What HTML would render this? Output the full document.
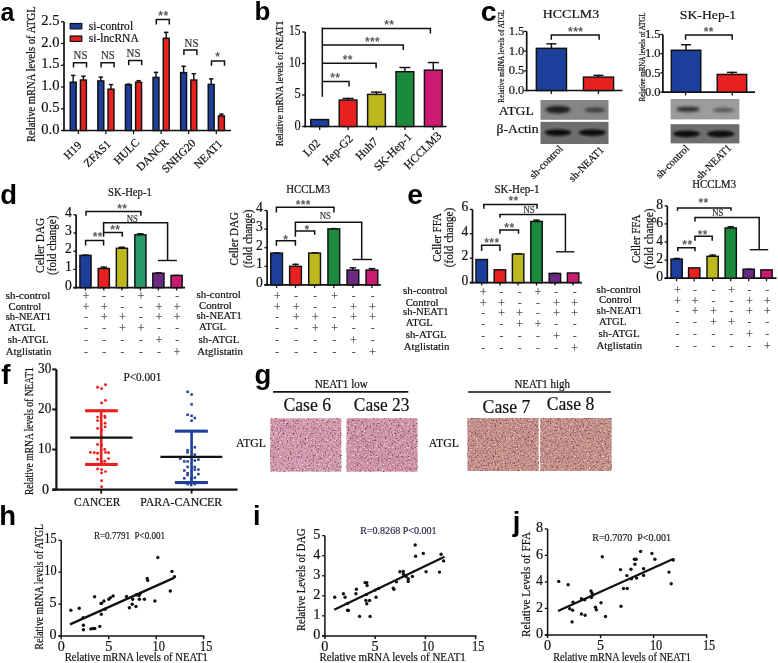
<!DOCTYPE html><html><head><meta charset="utf-8"><title>Figure</title><style>html,body{margin:0;padding:0;background:#fff;overflow:hidden}svg{display:block}</style></head><body>
<svg width="778" height="663" viewBox="0 0 778 663" font-family="'Liberation Serif', 'Times New Roman', serif">
<rect width="778" height="663" fill="#fff"/>
<text x="0.5" y="21" font-size="25" fill="#000" font-family="'Liberation Sans', Arial, sans-serif" font-weight="bold">a</text>
<text x="254.5" y="19.5" font-size="26" fill="#000" font-family="'Liberation Sans', Arial, sans-serif" font-weight="bold">b</text>
<text x="480.8" y="20.75" font-size="28.5" fill="#000" font-family="'Liberation Sans', Arial, sans-serif" font-weight="bold">c</text>
<text x="0.3" y="204.1" font-size="27.5" fill="#000" font-family="'Liberation Sans', Arial, sans-serif" font-weight="bold">d</text>
<text x="407.3" y="204.1" font-size="28.2" fill="#000" font-family="'Liberation Sans', Arial, sans-serif" font-weight="bold">e</text>
<text x="1.3" y="384.2" font-size="27.8" fill="#000" font-family="'Liberation Sans', Arial, sans-serif" font-weight="bold">f</text>
<text x="254.4" y="383.8" font-size="27.5" fill="#000" font-family="'Liberation Sans', Arial, sans-serif" font-weight="bold">g</text>
<text x="-0.8" y="525.3" font-size="27.5" fill="#000" font-family="'Liberation Sans', Arial, sans-serif" font-weight="bold">h</text>
<text x="253.1" y="525.1" font-size="27" fill="#000" font-family="'Liberation Sans', Arial, sans-serif" font-weight="bold">i</text>
<text x="512.7" y="530.7" font-size="27.3" fill="#000" font-family="'Liberation Sans', Arial, sans-serif" font-weight="bold">j</text>
<line x1="64" y1="21.75" x2="64" y2="131.35" stroke="#111" stroke-width="1.7" />
<line x1="63.15" y1="130.5" x2="231" y2="130.5" stroke="#111" stroke-width="1.7" />
<line x1="61" y1="130.5" x2="64" y2="130.5" stroke="#111" stroke-width="1.3" />
<text x="59.5" y="133.7" font-size="15.5" fill="#111" stroke="#111" stroke-width="0.2" text-anchor="end" textLength="18.2" lengthAdjust="spacingAndGlyphs">0.0</text>
<line x1="61" y1="108.75" x2="64" y2="108.75" stroke="#111" stroke-width="1.3" />
<text x="59.5" y="111.95" font-size="15.5" fill="#111" stroke="#111" stroke-width="0.2" text-anchor="end" textLength="18.2" lengthAdjust="spacingAndGlyphs">0.5</text>
<line x1="61" y1="87" x2="64" y2="87" stroke="#111" stroke-width="1.3" />
<text x="59.5" y="90.2" font-size="15.5" fill="#111" stroke="#111" stroke-width="0.2" text-anchor="end" textLength="18.2" lengthAdjust="spacingAndGlyphs">1.0</text>
<line x1="61" y1="65.25" x2="64" y2="65.25" stroke="#111" stroke-width="1.3" />
<text x="59.5" y="68.45" font-size="15.5" fill="#111" stroke="#111" stroke-width="0.2" text-anchor="end" textLength="18.2" lengthAdjust="spacingAndGlyphs">1.5</text>
<line x1="61" y1="43.5" x2="64" y2="43.5" stroke="#111" stroke-width="1.3" />
<text x="59.5" y="46.7" font-size="15.5" fill="#111" stroke="#111" stroke-width="0.2" text-anchor="end" textLength="18.2" lengthAdjust="spacingAndGlyphs">2.0</text>
<line x1="61" y1="21.75" x2="64" y2="21.75" stroke="#111" stroke-width="1.3" />
<text x="59.5" y="24.95" font-size="15.5" fill="#111" stroke="#111" stroke-width="0.2" text-anchor="end" textLength="18.2" lengthAdjust="spacingAndGlyphs">2.5</text>
<text transform="translate(35.1 74.2) rotate(-90)" font-size="12.2" fill="#111" stroke="#111" stroke-width="0.2" text-anchor="middle" textLength="135.7" lengthAdjust="spacingAndGlyphs">Relative mRNA levels of ATGL</text>
<rect x="70.2" y="23.5" width="11.6" height="5.4" fill="#1d3f9b" stroke="#111" stroke-width="1.2" />
<rect x="70.2" y="36" width="11.6" height="5.4" fill="#e8201f" stroke="#111" stroke-width="1.2" />
<text x="88.8" y="29.5" font-size="11.6" fill="#111" stroke="#111" stroke-width="0.2" textLength="44.3" lengthAdjust="spacingAndGlyphs">si-control</text>
<text x="88.8" y="41.7" font-size="11.6" fill="#111" stroke="#111" stroke-width="0.2" textLength="50" lengthAdjust="spacingAndGlyphs">si-lncRNA</text>
<line x1="73.2" y1="82.22" x2="73.2" y2="74.82" stroke="#111" stroke-width="1.45" />
<line x1="71" y1="75.44" x2="75.4" y2="75.44" stroke="#111" stroke-width="1.45" />
<rect x="70.22" y="82.22" width="5.95" height="48.28" fill="#1d3f9b" stroke="#111" stroke-width="1.45" />
<line x1="83.4" y1="80.04" x2="83.4" y2="75.69" stroke="#111" stroke-width="1.45" />
<line x1="81.2" y1="76.31" x2="85.6" y2="76.31" stroke="#111" stroke-width="1.45" />
<rect x="80.42" y="80.04" width="5.95" height="50.46" fill="#e8201f" stroke="#111" stroke-width="1.45" />
<line x1="78.3" y1="130.5" x2="78.3" y2="134.1" stroke="#111" stroke-width="1.3" />
<polyline points="73.5,67.5 73.5,62.7 86.5,62.7 86.5,67.5" fill="none" stroke="#111" stroke-width="1.5" stroke-linejoin="miter"/>
<text x="80.5" y="59.4" font-size="11.6" fill="#333" stroke="#333" stroke-width="0.2" text-anchor="middle" textLength="13.8" lengthAdjust="spacingAndGlyphs">NS</text>
<text transform="translate(75.3 153) rotate(-45)" font-size="11.4" fill="#111" stroke="#111" stroke-width="0.2" text-anchor="middle">H19</text>
<line x1="100.8" y1="80.91" x2="100.8" y2="76.56" stroke="#111" stroke-width="1.45" />
<line x1="98.6" y1="77.19" x2="103" y2="77.19" stroke="#111" stroke-width="1.45" />
<rect x="97.83" y="80.91" width="5.95" height="49.59" fill="#1d3f9b" stroke="#111" stroke-width="1.45" />
<line x1="111" y1="89.18" x2="111" y2="83.95" stroke="#111" stroke-width="1.45" />
<line x1="108.8" y1="84.58" x2="113.2" y2="84.58" stroke="#111" stroke-width="1.45" />
<rect x="108.02" y="89.18" width="5.95" height="41.32" fill="#e8201f" stroke="#111" stroke-width="1.45" />
<line x1="105.9" y1="130.5" x2="105.9" y2="134.1" stroke="#111" stroke-width="1.3" />
<polyline points="101.1,67.5 101.1,62.7 114.1,62.7 114.1,67.5" fill="none" stroke="#111" stroke-width="1.5" stroke-linejoin="miter"/>
<text x="107.8" y="59.4" font-size="11.6" fill="#333" stroke="#333" stroke-width="0.2" text-anchor="middle" textLength="13.8" lengthAdjust="spacingAndGlyphs">NS</text>
<text transform="translate(99.9 156.2) rotate(-45)" font-size="11.4" fill="#111" stroke="#111" stroke-width="0.2" text-anchor="middle">ZFAS1</text>
<line x1="128.4" y1="84.82" x2="128.4" y2="83.52" stroke="#111" stroke-width="1.45" />
<line x1="126.2" y1="84.14" x2="130.6" y2="84.14" stroke="#111" stroke-width="1.45" />
<rect x="125.42" y="84.82" width="5.95" height="45.67" fill="#1d3f9b" stroke="#111" stroke-width="1.45" />
<line x1="138.6" y1="82.22" x2="138.6" y2="80.04" stroke="#111" stroke-width="1.45" />
<line x1="136.4" y1="80.67" x2="140.8" y2="80.67" stroke="#111" stroke-width="1.45" />
<rect x="135.62" y="82.22" width="5.95" height="48.28" fill="#e8201f" stroke="#111" stroke-width="1.45" />
<line x1="133.5" y1="130.5" x2="133.5" y2="134.1" stroke="#111" stroke-width="1.3" />
<polyline points="128.7,65.2 128.7,60.4 141.7,60.4 141.7,65.2" fill="none" stroke="#111" stroke-width="1.5" stroke-linejoin="miter"/>
<text x="133.5" y="57.1" font-size="11.6" fill="#333" stroke="#333" stroke-width="0.2" text-anchor="middle" textLength="13.8" lengthAdjust="spacingAndGlyphs">NS</text>
<text transform="translate(129.1 154.1) rotate(-45)" font-size="11.4" fill="#111" stroke="#111" stroke-width="0.2" text-anchor="middle">HULC</text>
<line x1="156" y1="77.43" x2="156" y2="71.78" stroke="#111" stroke-width="1.45" />
<line x1="153.8" y1="72.4" x2="158.2" y2="72.4" stroke="#111" stroke-width="1.45" />
<rect x="153.03" y="77.43" width="5.95" height="53.07" fill="#1d3f9b" stroke="#111" stroke-width="1.45" />
<line x1="166.2" y1="38.28" x2="166.2" y2="31.75" stroke="#111" stroke-width="1.45" />
<line x1="164" y1="32.38" x2="168.4" y2="32.38" stroke="#111" stroke-width="1.45" />
<rect x="163.23" y="38.28" width="5.95" height="92.22" fill="#e8201f" stroke="#111" stroke-width="1.45" />
<line x1="161.1" y1="130.5" x2="161.1" y2="134.1" stroke="#111" stroke-width="1.3" />
<polyline points="156.3,24.4 156.3,19.6 169.3,19.6 169.3,24.4" fill="none" stroke="#111" stroke-width="1.5" stroke-linejoin="miter"/>
<text x="163.4" y="19.93" font-size="12" fill="#5a5a5a" font-family="'Liberation Sans', Arial, sans-serif" font-weight="bold" text-anchor="middle" letter-spacing="0.4">**</text>
<text transform="translate(155.1 157.5) rotate(-45)" font-size="11.4" fill="#111" stroke="#111" stroke-width="0.2" text-anchor="middle">DANCR</text>
<line x1="183.6" y1="72.64" x2="183.6" y2="65.69" stroke="#111" stroke-width="1.45" />
<line x1="181.4" y1="66.31" x2="185.8" y2="66.31" stroke="#111" stroke-width="1.45" />
<rect x="180.62" y="72.64" width="5.95" height="57.85" fill="#1d3f9b" stroke="#111" stroke-width="1.45" />
<line x1="193.8" y1="80.04" x2="193.8" y2="73.08" stroke="#111" stroke-width="1.45" />
<line x1="191.6" y1="73.7" x2="196" y2="73.7" stroke="#111" stroke-width="1.45" />
<rect x="190.82" y="80.04" width="5.95" height="50.46" fill="#e8201f" stroke="#111" stroke-width="1.45" />
<line x1="188.7" y1="130.5" x2="188.7" y2="134.1" stroke="#111" stroke-width="1.3" />
<polyline points="183.9,54.9 183.9,50.1 196.9,50.1 196.9,54.9" fill="none" stroke="#111" stroke-width="1.5" stroke-linejoin="miter"/>
<text x="191.5" y="46.8" font-size="11.6" fill="#333" stroke="#333" stroke-width="0.2" text-anchor="middle" textLength="13.8" lengthAdjust="spacingAndGlyphs">NS</text>
<text transform="translate(181.3 158.6) rotate(-45)" font-size="11.4" fill="#111" stroke="#111" stroke-width="0.2" text-anchor="middle">SNHG20</text>
<line x1="211.2" y1="84.39" x2="211.2" y2="78.3" stroke="#111" stroke-width="1.45" />
<line x1="209" y1="78.93" x2="213.4" y2="78.93" stroke="#111" stroke-width="1.45" />
<rect x="208.23" y="84.39" width="5.95" height="46.11" fill="#1d3f9b" stroke="#111" stroke-width="1.45" />
<line x1="221.4" y1="115.93" x2="221.4" y2="113.53" stroke="#111" stroke-width="1.45" />
<line x1="219.2" y1="114.16" x2="223.6" y2="114.16" stroke="#111" stroke-width="1.45" />
<rect x="218.43" y="115.93" width="5.95" height="14.57" fill="#e8201f" stroke="#111" stroke-width="1.45" />
<line x1="216.3" y1="130.5" x2="216.3" y2="134.1" stroke="#111" stroke-width="1.3" />
<polyline points="211.5,65.7 211.5,60.9 224.5,60.9 224.5,65.7" fill="none" stroke="#111" stroke-width="1.5" stroke-linejoin="miter"/>
<text x="217.8" y="61.23" font-size="12" fill="#5a5a5a" font-family="'Liberation Sans', Arial, sans-serif" font-weight="bold" text-anchor="middle" letter-spacing="0.4">*</text>
<text transform="translate(210.8 156.7) rotate(-45)" font-size="11.4" fill="#111" stroke="#111" stroke-width="0.2" text-anchor="middle">NEAT1</text>
<line x1="305.2" y1="32" x2="305.2" y2="127.35" stroke="#111" stroke-width="1.7" />
<line x1="304.35" y1="126.5" x2="446.5" y2="126.5" stroke="#111" stroke-width="1.7" />
<line x1="302" y1="126.5" x2="305.2" y2="126.5" stroke="#111" stroke-width="1.3" />
<text x="300.6" y="129.7" font-size="15.5" fill="#111" stroke="#111" stroke-width="0.2" text-anchor="end" textLength="6.2" lengthAdjust="spacingAndGlyphs">0</text>
<line x1="302" y1="95" x2="305.2" y2="95" stroke="#111" stroke-width="1.3" />
<text x="300.6" y="98.2" font-size="15.5" fill="#111" stroke="#111" stroke-width="0.2" text-anchor="end" textLength="6.2" lengthAdjust="spacingAndGlyphs">5</text>
<line x1="302" y1="63.5" x2="305.2" y2="63.5" stroke="#111" stroke-width="1.3" />
<text x="300.6" y="66.7" font-size="15.5" fill="#111" stroke="#111" stroke-width="0.2" text-anchor="end" textLength="11.6" lengthAdjust="spacingAndGlyphs">10</text>
<line x1="302" y1="32" x2="305.2" y2="32" stroke="#111" stroke-width="1.3" />
<text x="300.6" y="35.2" font-size="15.5" fill="#111" stroke="#111" stroke-width="0.2" text-anchor="end" textLength="11.6" lengthAdjust="spacingAndGlyphs">15</text>
<text transform="translate(283.4 83.6) rotate(-90)" font-size="10.6" fill="#111" stroke="#111" stroke-width="0.2" text-anchor="middle" textLength="125.5" lengthAdjust="spacingAndGlyphs">Relative mRNA levels of NEAT1</text>
<rect x="310.82" y="119.57" width="17.75" height="6.93" fill="#1d3f9b" stroke="#111" stroke-width="1.45" />
<line x1="319.7" y1="126.5" x2="319.7" y2="130.1" stroke="#111" stroke-width="1.3" />
<text transform="translate(314.3 150.5) rotate(-45)" font-size="11.7" fill="#111" stroke="#111" stroke-width="0.2" text-anchor="middle">L02</text>
<line x1="348.1" y1="100.04" x2="348.1" y2="97.84" stroke="#111" stroke-width="1.45" />
<line x1="342.6" y1="98.46" x2="353.6" y2="98.46" stroke="#111" stroke-width="1.45" />
<rect x="339.22" y="100.04" width="17.75" height="26.46" fill="#e8201f" stroke="#111" stroke-width="1.45" />
<line x1="348.1" y1="126.5" x2="348.1" y2="130.1" stroke="#111" stroke-width="1.3" />
<text transform="translate(340.2 152.8) rotate(-45)" font-size="11.7" fill="#111" stroke="#111" stroke-width="0.2" text-anchor="middle">Hep-G2</text>
<line x1="376.5" y1="94.37" x2="376.5" y2="91.53" stroke="#111" stroke-width="1.45" />
<line x1="371" y1="92.16" x2="382" y2="92.16" stroke="#111" stroke-width="1.45" />
<rect x="367.62" y="94.37" width="17.75" height="32.13" fill="#bcb81e" stroke="#111" stroke-width="1.45" />
<line x1="376.5" y1="126.5" x2="376.5" y2="130.1" stroke="#111" stroke-width="1.3" />
<text transform="translate(369.4 151.5) rotate(-45)" font-size="11.7" fill="#111" stroke="#111" stroke-width="0.2" text-anchor="middle">Huh7</text>
<line x1="404.9" y1="71.69" x2="404.9" y2="66.9" stroke="#111" stroke-width="1.45" />
<line x1="399.4" y1="67.53" x2="410.4" y2="67.53" stroke="#111" stroke-width="1.45" />
<rect x="396.02" y="71.69" width="17.75" height="54.81" fill="#1c8a3c" stroke="#111" stroke-width="1.45" />
<line x1="404.9" y1="126.5" x2="404.9" y2="130.1" stroke="#111" stroke-width="1.3" />
<text transform="translate(395.4 154.5) rotate(-45)" font-size="11.7" fill="#111" stroke="#111" stroke-width="0.2" text-anchor="middle">SK-Hep-1</text>
<line x1="433.3" y1="70.12" x2="433.3" y2="61.92" stroke="#111" stroke-width="1.45" />
<line x1="427.8" y1="62.55" x2="438.8" y2="62.55" stroke="#111" stroke-width="1.45" />
<rect x="424.42" y="70.12" width="17.75" height="56.38" fill="#cc1a72" stroke="#111" stroke-width="1.45" />
<line x1="433.3" y1="126.5" x2="433.3" y2="130.1" stroke="#111" stroke-width="1.3" />
<text transform="translate(425.3 153.2) rotate(-45)" font-size="11.7" fill="#111" stroke="#111" stroke-width="0.2" text-anchor="middle">HCCLM3</text>
<line x1="322.3" y1="96.8" x2="322.3" y2="27.65" stroke="#111" stroke-width="1.5" />
<polyline points="322.3,28.4 430.4,28.4 430.4,33.4" fill="none" stroke="#111" stroke-width="1.5" stroke-linejoin="miter"/>
<text x="389.2" y="29.23" font-size="12" fill="#5a5a5a" font-family="'Liberation Sans', Arial, sans-serif" font-weight="bold" text-anchor="middle" letter-spacing="0.4">**</text>
<polyline points="322.3,45.1 403.3,45.1 403.3,50.1" fill="none" stroke="#111" stroke-width="1.5" stroke-linejoin="miter"/>
<text x="372.5" y="46.03" font-size="12" fill="#5a5a5a" font-family="'Liberation Sans', Arial, sans-serif" font-weight="bold" text-anchor="middle" letter-spacing="0.4">***</text>
<polyline points="322.3,63.3 376.1,63.3 376.1,68.3" fill="none" stroke="#111" stroke-width="1.5" stroke-linejoin="miter"/>
<text x="347.7" y="63.63" font-size="12" fill="#5a5a5a" font-family="'Liberation Sans', Arial, sans-serif" font-weight="bold" text-anchor="middle" letter-spacing="0.4">**</text>
<polyline points="322.3,81.4 349,81.4 349,86.4" fill="none" stroke="#111" stroke-width="1.5" stroke-linejoin="miter"/>
<text x="335.2" y="81.63" font-size="12" fill="#5a5a5a" font-family="'Liberation Sans', Arial, sans-serif" font-weight="bold" text-anchor="middle" letter-spacing="0.4">**</text>
<text x="571" y="18.1" font-size="13.2" fill="#111" stroke="#111" stroke-width="0.2" text-anchor="middle" textLength="56.3" lengthAdjust="spacingAndGlyphs">HCCLM3</text>
<line x1="526.7" y1="31.4" x2="526.7" y2="91.35" stroke="#111" stroke-width="1.7" />
<line x1="525.85" y1="90.5" x2="622.5" y2="90.5" stroke="#111" stroke-width="1.7" />
<line x1="524.1" y1="90.5" x2="526.7" y2="90.5" stroke="#111" stroke-width="1.3" />
<text x="524.3" y="94.1" font-size="13" fill="#111" stroke="#111" stroke-width="0.2" text-anchor="end" textLength="15.6" lengthAdjust="spacingAndGlyphs">0.0</text>
<line x1="524.1" y1="70.8" x2="526.7" y2="70.8" stroke="#111" stroke-width="1.3" />
<text x="524.3" y="74.4" font-size="13" fill="#111" stroke="#111" stroke-width="0.2" text-anchor="end" textLength="15.6" lengthAdjust="spacingAndGlyphs">0.5</text>
<line x1="524.1" y1="51.1" x2="526.7" y2="51.1" stroke="#111" stroke-width="1.3" />
<text x="524.3" y="54.7" font-size="13" fill="#111" stroke="#111" stroke-width="0.2" text-anchor="end" textLength="15.6" lengthAdjust="spacingAndGlyphs">1.0</text>
<line x1="524.1" y1="31.4" x2="526.7" y2="31.4" stroke="#111" stroke-width="1.3" />
<text x="524.3" y="35" font-size="13" fill="#111" stroke="#111" stroke-width="0.2" text-anchor="end" textLength="15.6" lengthAdjust="spacingAndGlyphs">1.5</text>
<text transform="translate(504.3 56.2) rotate(-90)" font-size="8.8" fill="#111" stroke="#111" stroke-width="0.2" text-anchor="middle" textLength="93" lengthAdjust="spacingAndGlyphs">Relative mRNA levels of ATGL</text>
<line x1="551.4" y1="48.34" x2="551.4" y2="43.22" stroke="#111" stroke-width="1.45" />
<line x1="546.4" y1="43.85" x2="556.4" y2="43.85" stroke="#111" stroke-width="1.45" />
<rect x="536.33" y="48.34" width="30.15" height="42.16" fill="#1d3f9b" stroke="#111" stroke-width="1.45" />
<line x1="598.5" y1="77.1" x2="598.5" y2="74.74" stroke="#111" stroke-width="1.45" />
<line x1="593.5" y1="75.36" x2="603.5" y2="75.36" stroke="#111" stroke-width="1.45" />
<rect x="583.43" y="77.1" width="30.15" height="13.4" fill="#e8201f" stroke="#111" stroke-width="1.45" />
<line x1="551.3" y1="90.5" x2="551.3" y2="93.9" stroke="#111" stroke-width="1.3" />
<line x1="598.4" y1="90.5" x2="598.4" y2="93.9" stroke="#111" stroke-width="1.3" />
<polyline points="551.3,39.8 551.3,35 599.1,35 599.1,39.8" fill="none" stroke="#111" stroke-width="1.5" stroke-linejoin="miter"/>
<text x="575.7" y="36.13" font-size="12" fill="#5a5a5a" font-family="'Liberation Sans', Arial, sans-serif" font-weight="bold" text-anchor="middle" letter-spacing="0.4">***</text>
<text transform="translate(548.5 164.4) rotate(-45)" font-size="10.5" fill="#111" stroke="#111" stroke-width="0.2" text-anchor="middle">sh-control</text>
<text transform="translate(588.7 166.3) rotate(-45)" font-size="10.5" fill="#111" stroke="#111" stroke-width="0.2" text-anchor="middle">sh-NEAT1</text>
<text x="708" y="18.8" font-size="13.2" fill="#111" stroke="#111" stroke-width="0.2" text-anchor="middle" textLength="56.3" lengthAdjust="spacingAndGlyphs">SK-Hep-1</text>
<line x1="662.9" y1="34.5" x2="662.9" y2="92.95" stroke="#111" stroke-width="1.7" />
<line x1="662.05" y1="92.1" x2="755.1" y2="92.1" stroke="#111" stroke-width="1.7" />
<line x1="660.3" y1="92.1" x2="662.9" y2="92.1" stroke="#111" stroke-width="1.3" />
<text x="660.5" y="95.7" font-size="13" fill="#111" stroke="#111" stroke-width="0.2" text-anchor="end" textLength="15.6" lengthAdjust="spacingAndGlyphs">0.0</text>
<line x1="660.3" y1="72.9" x2="662.9" y2="72.9" stroke="#111" stroke-width="1.3" />
<text x="660.5" y="76.5" font-size="13" fill="#111" stroke="#111" stroke-width="0.2" text-anchor="end" textLength="15.6" lengthAdjust="spacingAndGlyphs">0.5</text>
<line x1="660.3" y1="53.7" x2="662.9" y2="53.7" stroke="#111" stroke-width="1.3" />
<text x="660.5" y="57.3" font-size="13" fill="#111" stroke="#111" stroke-width="0.2" text-anchor="end" textLength="15.6" lengthAdjust="spacingAndGlyphs">1.0</text>
<line x1="660.3" y1="34.5" x2="662.9" y2="34.5" stroke="#111" stroke-width="1.3" />
<text x="660.5" y="38.1" font-size="13" fill="#111" stroke="#111" stroke-width="0.2" text-anchor="end" textLength="15.6" lengthAdjust="spacingAndGlyphs">1.5</text>
<text transform="translate(644.6 57) rotate(-90)" font-size="8.8" fill="#111" stroke="#111" stroke-width="0.2" text-anchor="middle" textLength="89" lengthAdjust="spacingAndGlyphs">Relative mRNA levels of ATGL</text>
<line x1="686.05" y1="50.24" x2="686.05" y2="44.1" stroke="#111" stroke-width="1.45" />
<line x1="681.05" y1="44.72" x2="691.05" y2="44.72" stroke="#111" stroke-width="1.45" />
<rect x="671.32" y="50.24" width="29.45" height="41.86" fill="#1d3f9b" stroke="#111" stroke-width="1.45" />
<line x1="731.95" y1="74.44" x2="731.95" y2="71.75" stroke="#111" stroke-width="1.45" />
<line x1="726.95" y1="72.37" x2="736.95" y2="72.37" stroke="#111" stroke-width="1.45" />
<rect x="717.23" y="74.44" width="29.45" height="17.66" fill="#e8201f" stroke="#111" stroke-width="1.45" />
<line x1="685.6" y1="92.1" x2="685.6" y2="95.5" stroke="#111" stroke-width="1.3" />
<line x1="732.2" y1="92.1" x2="732.2" y2="95.5" stroke="#111" stroke-width="1.3" />
<polyline points="685.6,39.8 685.6,35 732.2,35 732.2,39.8" fill="none" stroke="#111" stroke-width="1.5" stroke-linejoin="miter"/>
<text x="708.8" y="36.13" font-size="12" fill="#5a5a5a" font-family="'Liberation Sans', Arial, sans-serif" font-weight="bold" text-anchor="middle" letter-spacing="0.4">**</text>
<text transform="translate(674.7 164) rotate(-45)" font-size="10.5" fill="#111" stroke="#111" stroke-width="0.2" text-anchor="middle">sh-control</text>
<text transform="translate(716.1 164.4) rotate(-45)" font-size="10.5" fill="#111" stroke="#111" stroke-width="0.2" text-anchor="middle">sh-NEAT1</text>
<defs><filter id="bl1" x="-30%" y="-80%" width="160%" height="260%"><feGaussianBlur stdDeviation="1.6"/></filter><filter id="bl2" x="-30%" y="-80%" width="160%" height="260%"><feGaussianBlur stdDeviation="1.1"/></filter><linearGradient id="gA" x1="0" y1="0" x2="0" y2="1"><stop offset="0" stop-color="#8a8a8a"/><stop offset="1" stop-color="#7c7c7c"/></linearGradient></defs>
<rect x="540.5" y="100" width="68" height="19.8" fill="#868686"/>
<rect x="540.5" y="121.8" width="68" height="22.2" fill="#6e6e6e"/>
<ellipse cx="558" cy="109.6" rx="12.5" ry="3.6" fill="#1a1a1a" filter="url(#bl1)"/>
<ellipse cx="595" cy="110" rx="10.5" ry="2.4" fill="#3a3a3a" filter="url(#bl1)"/>
<ellipse cx="558" cy="132.6" rx="13.2" ry="3.4" fill="#111" filter="url(#bl2)"/>
<ellipse cx="592.3" cy="132.6" rx="13.6" ry="3.4" fill="#111" filter="url(#bl2)"/>
<text x="498.8" y="115.4" font-size="11.6" fill="#111" stroke="#111" stroke-width="0.2" textLength="35" lengthAdjust="spacingAndGlyphs">ATGL</text>
<text x="496.5" y="133.1" font-size="11.6" fill="#111" stroke="#111" stroke-width="0.2" textLength="42" lengthAdjust="spacingAndGlyphs">β-Actin</text>
<rect x="670.6" y="99" width="68.8" height="20.4" fill="#9c9c9c"/>
<rect x="670.6" y="124.2" width="68.8" height="19.2" fill="#6e6e6e"/>
<ellipse cx="688" cy="109.2" rx="12" ry="2.8" fill="#333" filter="url(#bl1)"/>
<ellipse cx="723.5" cy="110" rx="11" ry="2.2" fill="#555" filter="url(#bl1)"/>
<ellipse cx="686.5" cy="133.8" rx="13.4" ry="3.4" fill="#111" filter="url(#bl2)"/>
<ellipse cx="720.7" cy="133.8" rx="13.8" ry="3.4" fill="#111" filter="url(#bl2)"/>
<text x="129.9" y="195.8" font-size="11.6" fill="#111" stroke="#111" stroke-width="0.2" text-anchor="middle" textLength="43.7" lengthAdjust="spacingAndGlyphs">SK-Hep-1</text>
<line x1="76.1" y1="214.8" x2="76.1" y2="288.45" stroke="#111" stroke-width="1.7" />
<line x1="73.4" y1="287.6" x2="185" y2="287.6" stroke="#111" stroke-width="1.7" />
<line x1="73.4" y1="287.6" x2="76.1" y2="287.6" stroke="#111" stroke-width="1.3" />
<text x="71.9" y="289.6" font-size="13.6" fill="#111" stroke="#111" stroke-width="0.2" text-anchor="end">0</text>
<line x1="73.4" y1="269.4" x2="76.1" y2="269.4" stroke="#111" stroke-width="1.3" />
<text x="71.9" y="271.4" font-size="13.6" fill="#111" stroke="#111" stroke-width="0.2" text-anchor="end">1</text>
<line x1="73.4" y1="251.2" x2="76.1" y2="251.2" stroke="#111" stroke-width="1.3" />
<text x="71.9" y="253.2" font-size="13.6" fill="#111" stroke="#111" stroke-width="0.2" text-anchor="end">2</text>
<line x1="73.4" y1="233" x2="76.1" y2="233" stroke="#111" stroke-width="1.3" />
<text x="71.9" y="235" font-size="13.6" fill="#111" stroke="#111" stroke-width="0.2" text-anchor="end">3</text>
<line x1="73.4" y1="214.8" x2="76.1" y2="214.8" stroke="#111" stroke-width="1.3" />
<text x="71.9" y="216.8" font-size="13.6" fill="#111" stroke="#111" stroke-width="0.2" text-anchor="end">4</text>
<text transform="translate(43.9 245.3) rotate(-90)" font-size="11.8" fill="#111" stroke="#111" stroke-width="0.2" text-anchor="middle" textLength="55.2" lengthAdjust="spacingAndGlyphs">Celler DAG</text>
<text transform="translate(56.4 245.3) rotate(-90)" font-size="11.8" fill="#111" stroke="#111" stroke-width="0.2" text-anchor="middle" textLength="59.4" lengthAdjust="spacingAndGlyphs">(fold change)</text>
<line x1="85.5" y1="255.39" x2="85.5" y2="254.48" stroke="#111" stroke-width="1.45" />
<line x1="82.25" y1="255.1" x2="88.75" y2="255.1" stroke="#111" stroke-width="1.45" />
<rect x="79.92" y="255.39" width="11.15" height="32.21" fill="#1d3f9b" stroke="#111" stroke-width="1.45" />
<line x1="85.5" y1="287.6" x2="85.5" y2="290.6" stroke="#111" stroke-width="1.3" />
<line x1="103.8" y1="268.49" x2="103.8" y2="266.49" stroke="#111" stroke-width="1.45" />
<line x1="100.55" y1="267.11" x2="107.05" y2="267.11" stroke="#111" stroke-width="1.45" />
<rect x="98.22" y="268.49" width="11.15" height="19.11" fill="#e8201f" stroke="#111" stroke-width="1.45" />
<line x1="103.8" y1="287.6" x2="103.8" y2="290.6" stroke="#111" stroke-width="1.3" />
<line x1="121.9" y1="248.29" x2="121.9" y2="246.65" stroke="#111" stroke-width="1.45" />
<line x1="118.65" y1="247.28" x2="125.15" y2="247.28" stroke="#111" stroke-width="1.45" />
<rect x="116.33" y="248.29" width="11.15" height="39.31" fill="#bcb81e" stroke="#111" stroke-width="1.45" />
<line x1="121.9" y1="287.6" x2="121.9" y2="290.6" stroke="#111" stroke-width="1.3" />
<line x1="140.4" y1="234.82" x2="140.4" y2="233.18" stroke="#111" stroke-width="1.45" />
<line x1="137.15" y1="233.81" x2="143.65" y2="233.81" stroke="#111" stroke-width="1.45" />
<rect x="134.82" y="234.82" width="11.15" height="52.78" fill="#27996a" stroke="#111" stroke-width="1.45" />
<line x1="140.4" y1="287.6" x2="140.4" y2="290.6" stroke="#111" stroke-width="1.3" />
<line x1="158.4" y1="273.22" x2="158.4" y2="272.31" stroke="#111" stroke-width="1.45" />
<line x1="155.15" y1="272.94" x2="161.65" y2="272.94" stroke="#111" stroke-width="1.45" />
<rect x="152.82" y="273.22" width="11.15" height="14.38" fill="#6b2a82" stroke="#111" stroke-width="1.45" />
<line x1="158.4" y1="287.6" x2="158.4" y2="290.6" stroke="#111" stroke-width="1.3" />
<line x1="176.6" y1="275.41" x2="176.6" y2="274.86" stroke="#111" stroke-width="1.45" />
<line x1="173.35" y1="275.49" x2="179.85" y2="275.49" stroke="#111" stroke-width="1.45" />
<rect x="171.02" y="275.41" width="11.15" height="12.19" fill="#cc1a72" stroke="#111" stroke-width="1.45" />
<line x1="176.6" y1="287.6" x2="176.6" y2="290.6" stroke="#111" stroke-width="1.3" />
<polyline points="86,215.8 86,211.4 140.9,211.4 140.9,215.8" fill="none" stroke="#111" stroke-width="1.5" stroke-linejoin="miter"/>
<text x="122.3" y="212.83" font-size="12" fill="#5a5a5a" font-family="'Liberation Sans', Arial, sans-serif" font-weight="bold" text-anchor="middle" letter-spacing="0.4">**</text>
<polyline points="103.6,236.8 103.6,222.7 167.6,222.7 167.6,260.5" fill="none" stroke="#111" stroke-width="1.5" stroke-linejoin="miter"/>
<text x="132.4" y="222" font-size="10" fill="#333" stroke="#333" stroke-width="0.2" text-anchor="middle" textLength="11.2" lengthAdjust="spacingAndGlyphs">NS</text>
<polyline points="85.6,245.5 85.6,240.6 103.6,240.6 103.6,245.5" fill="none" stroke="#111" stroke-width="1.5" stroke-linejoin="miter"/>
<text x="97.8" y="241.23" font-size="12" fill="#5a5a5a" font-family="'Liberation Sans', Arial, sans-serif" font-weight="bold" text-anchor="middle" letter-spacing="0.4">**</text>
<polyline points="103.6,232.4 122.3,232.4 122.3,236.7" fill="none" stroke="#111" stroke-width="1.5" stroke-linejoin="miter"/>
<text x="115.3" y="234.23" font-size="12" fill="#5a5a5a" font-family="'Liberation Sans', Arial, sans-serif" font-weight="bold" text-anchor="middle" letter-spacing="0.4">**</text>
<line x1="158" y1="260.5" x2="176.9" y2="260.5" stroke="#111" stroke-width="1.4" />
<text x="5.7" y="298.7" font-size="11.2" fill="#111" stroke="#111" stroke-width="0.2" textLength="44.5" lengthAdjust="spacingAndGlyphs">sh-control</text>
<text x="86" y="300.1" font-size="11.6" fill="#505050" stroke="#505050" stroke-width="0.2" text-anchor="middle">+</text>
<text x="104.3" y="299.1" font-size="11.6" fill="#505050" stroke="#505050" stroke-width="0.2" text-anchor="middle">-</text>
<text x="122.4" y="299.1" font-size="11.6" fill="#505050" stroke="#505050" stroke-width="0.2" text-anchor="middle">-</text>
<text x="140.9" y="300.1" font-size="11.6" fill="#505050" stroke="#505050" stroke-width="0.2" text-anchor="middle">+</text>
<text x="158.9" y="299.1" font-size="11.6" fill="#505050" stroke="#505050" stroke-width="0.2" text-anchor="middle">-</text>
<text x="177.1" y="299.1" font-size="11.6" fill="#505050" stroke="#505050" stroke-width="0.2" text-anchor="middle">-</text>
<text x="8.5" y="310" font-size="11.2" fill="#111" stroke="#111" stroke-width="0.2" textLength="32.8" lengthAdjust="spacingAndGlyphs">Control</text>
<text x="86" y="311.4" font-size="11.6" fill="#505050" stroke="#505050" stroke-width="0.2" text-anchor="middle">+</text>
<text x="104.3" y="311.4" font-size="11.6" fill="#505050" stroke="#505050" stroke-width="0.2" text-anchor="middle">+</text>
<text x="122.4" y="310.4" font-size="11.6" fill="#505050" stroke="#505050" stroke-width="0.2" text-anchor="middle">-</text>
<text x="140.9" y="310.4" font-size="11.6" fill="#505050" stroke="#505050" stroke-width="0.2" text-anchor="middle">-</text>
<text x="158.9" y="311.4" font-size="11.6" fill="#505050" stroke="#505050" stroke-width="0.2" text-anchor="middle">+</text>
<text x="177.1" y="311.4" font-size="11.6" fill="#505050" stroke="#505050" stroke-width="0.2" text-anchor="middle">+</text>
<text x="5.7" y="319.7" font-size="11.2" fill="#111" stroke="#111" stroke-width="0.2" textLength="45.5" lengthAdjust="spacingAndGlyphs">sh-NEAT1</text>
<text x="86" y="320.1" font-size="11.6" fill="#505050" stroke="#505050" stroke-width="0.2" text-anchor="middle">-</text>
<text x="104.3" y="321.1" font-size="11.6" fill="#505050" stroke="#505050" stroke-width="0.2" text-anchor="middle">+</text>
<text x="122.4" y="321.1" font-size="11.6" fill="#505050" stroke="#505050" stroke-width="0.2" text-anchor="middle">+</text>
<text x="140.9" y="320.1" font-size="11.6" fill="#505050" stroke="#505050" stroke-width="0.2" text-anchor="middle">-</text>
<text x="158.9" y="321.1" font-size="11.6" fill="#505050" stroke="#505050" stroke-width="0.2" text-anchor="middle">+</text>
<text x="177.1" y="321.1" font-size="11.6" fill="#505050" stroke="#505050" stroke-width="0.2" text-anchor="middle">+</text>
<text x="8.5" y="330.5" font-size="11.2" fill="#111" stroke="#111" stroke-width="0.2" textLength="27.1" lengthAdjust="spacingAndGlyphs">ATGL</text>
<text x="86" y="330.9" font-size="11.6" fill="#505050" stroke="#505050" stroke-width="0.2" text-anchor="middle">-</text>
<text x="104.3" y="330.9" font-size="11.6" fill="#505050" stroke="#505050" stroke-width="0.2" text-anchor="middle">-</text>
<text x="122.4" y="331.9" font-size="11.6" fill="#505050" stroke="#505050" stroke-width="0.2" text-anchor="middle">+</text>
<text x="140.9" y="331.9" font-size="11.6" fill="#505050" stroke="#505050" stroke-width="0.2" text-anchor="middle">+</text>
<text x="158.9" y="330.9" font-size="11.6" fill="#505050" stroke="#505050" stroke-width="0.2" text-anchor="middle">-</text>
<text x="177.1" y="330.9" font-size="11.6" fill="#505050" stroke="#505050" stroke-width="0.2" text-anchor="middle">-</text>
<text x="7.7" y="343" font-size="11.2" fill="#111" stroke="#111" stroke-width="0.2" textLength="41" lengthAdjust="spacingAndGlyphs">sh-ATGL</text>
<text x="86" y="343.4" font-size="11.6" fill="#505050" stroke="#505050" stroke-width="0.2" text-anchor="middle">-</text>
<text x="104.3" y="343.4" font-size="11.6" fill="#505050" stroke="#505050" stroke-width="0.2" text-anchor="middle">-</text>
<text x="122.4" y="343.4" font-size="11.6" fill="#505050" stroke="#505050" stroke-width="0.2" text-anchor="middle">-</text>
<text x="140.9" y="343.4" font-size="11.6" fill="#505050" stroke="#505050" stroke-width="0.2" text-anchor="middle">-</text>
<text x="158.9" y="344.4" font-size="11.6" fill="#505050" stroke="#505050" stroke-width="0.2" text-anchor="middle">+</text>
<text x="177.1" y="343.4" font-size="11.6" fill="#505050" stroke="#505050" stroke-width="0.2" text-anchor="middle">-</text>
<text x="5.7" y="354.6" font-size="11.2" fill="#111" stroke="#111" stroke-width="0.2" textLength="45.7" lengthAdjust="spacingAndGlyphs">Atglistatin</text>
<text x="86" y="355" font-size="11.6" fill="#505050" stroke="#505050" stroke-width="0.2" text-anchor="middle">-</text>
<text x="104.3" y="355" font-size="11.6" fill="#505050" stroke="#505050" stroke-width="0.2" text-anchor="middle">-</text>
<text x="122.4" y="355" font-size="11.6" fill="#505050" stroke="#505050" stroke-width="0.2" text-anchor="middle">-</text>
<text x="140.9" y="355" font-size="11.6" fill="#505050" stroke="#505050" stroke-width="0.2" text-anchor="middle">-</text>
<text x="158.9" y="355" font-size="11.6" fill="#505050" stroke="#505050" stroke-width="0.2" text-anchor="middle">-</text>
<text x="177.1" y="356" font-size="11.6" fill="#505050" stroke="#505050" stroke-width="0.2" text-anchor="middle">+</text>
<text x="308.2" y="193.3" font-size="11.6" fill="#111" stroke="#111" stroke-width="0.2" text-anchor="middle" textLength="43.7" lengthAdjust="spacingAndGlyphs">HCCLM3</text>
<line x1="267.1" y1="210.5" x2="267.1" y2="285.75" stroke="#111" stroke-width="1.7" />
<line x1="264.4" y1="284.9" x2="380.9" y2="284.9" stroke="#111" stroke-width="1.7" />
<line x1="264.4" y1="284.9" x2="267.1" y2="284.9" stroke="#111" stroke-width="1.3" />
<text x="262.9" y="286.7" font-size="13.6" fill="#111" stroke="#111" stroke-width="0.2" text-anchor="end">0</text>
<line x1="264.4" y1="266.3" x2="267.1" y2="266.3" stroke="#111" stroke-width="1.3" />
<text x="262.9" y="268.1" font-size="13.6" fill="#111" stroke="#111" stroke-width="0.2" text-anchor="end">1</text>
<line x1="264.4" y1="247.7" x2="267.1" y2="247.7" stroke="#111" stroke-width="1.3" />
<text x="262.9" y="249.5" font-size="13.6" fill="#111" stroke="#111" stroke-width="0.2" text-anchor="end">2</text>
<line x1="264.4" y1="229.1" x2="267.1" y2="229.1" stroke="#111" stroke-width="1.3" />
<text x="262.9" y="230.9" font-size="13.6" fill="#111" stroke="#111" stroke-width="0.2" text-anchor="end">3</text>
<line x1="264.4" y1="210.5" x2="267.1" y2="210.5" stroke="#111" stroke-width="1.3" />
<text x="262.9" y="212.3" font-size="13.6" fill="#111" stroke="#111" stroke-width="0.2" text-anchor="end">4</text>
<text transform="translate(238.4 238.8) rotate(-90)" font-size="11.8" fill="#111" stroke="#111" stroke-width="0.2" text-anchor="middle" textLength="53.2" lengthAdjust="spacingAndGlyphs">Celler DAG</text>
<text transform="translate(252.1 238.8) rotate(-90)" font-size="11.8" fill="#111" stroke="#111" stroke-width="0.2" text-anchor="middle" textLength="58.6" lengthAdjust="spacingAndGlyphs">(fold change)</text>
<line x1="276.6" y1="253.09" x2="276.6" y2="252.35" stroke="#111" stroke-width="1.45" />
<line x1="273.35" y1="252.97" x2="279.85" y2="252.97" stroke="#111" stroke-width="1.45" />
<rect x="270.73" y="253.09" width="11.75" height="31.81" fill="#1d3f9b" stroke="#111" stroke-width="1.45" />
<line x1="276.6" y1="284.9" x2="276.6" y2="287.9" stroke="#111" stroke-width="1.3" />
<line x1="295.5" y1="266.3" x2="295.5" y2="263.7" stroke="#111" stroke-width="1.45" />
<line x1="292.25" y1="264.32" x2="298.75" y2="264.32" stroke="#111" stroke-width="1.45" />
<rect x="289.62" y="266.3" width="11.75" height="18.6" fill="#e8201f" stroke="#111" stroke-width="1.45" />
<line x1="295.5" y1="284.9" x2="295.5" y2="287.9" stroke="#111" stroke-width="1.3" />
<line x1="314.6" y1="253.09" x2="314.6" y2="252.16" stroke="#111" stroke-width="1.45" />
<line x1="311.35" y1="252.79" x2="317.85" y2="252.79" stroke="#111" stroke-width="1.45" />
<rect x="308.73" y="253.09" width="11.75" height="31.81" fill="#bcb81e" stroke="#111" stroke-width="1.45" />
<line x1="314.6" y1="284.9" x2="314.6" y2="287.9" stroke="#111" stroke-width="1.3" />
<line x1="333.8" y1="228.91" x2="333.8" y2="227.98" stroke="#111" stroke-width="1.45" />
<line x1="330.55" y1="228.61" x2="337.05" y2="228.61" stroke="#111" stroke-width="1.45" />
<rect x="327.93" y="228.91" width="11.75" height="55.99" fill="#1c8a3c" stroke="#111" stroke-width="1.45" />
<line x1="333.8" y1="284.9" x2="333.8" y2="287.9" stroke="#111" stroke-width="1.3" />
<line x1="352.9" y1="270.02" x2="352.9" y2="267.23" stroke="#111" stroke-width="1.45" />
<line x1="349.65" y1="267.85" x2="356.15" y2="267.85" stroke="#111" stroke-width="1.45" />
<rect x="347.02" y="270.02" width="11.75" height="14.88" fill="#6b2a82" stroke="#111" stroke-width="1.45" />
<line x1="352.9" y1="284.9" x2="352.9" y2="287.9" stroke="#111" stroke-width="1.3" />
<line x1="371.9" y1="270.02" x2="371.9" y2="267.97" stroke="#111" stroke-width="1.45" />
<line x1="368.65" y1="268.6" x2="375.15" y2="268.6" stroke="#111" stroke-width="1.45" />
<rect x="366.02" y="270.02" width="11.75" height="14.88" fill="#cc1a72" stroke="#111" stroke-width="1.45" />
<line x1="371.9" y1="284.9" x2="371.9" y2="287.9" stroke="#111" stroke-width="1.3" />
<polyline points="276.4,212.4 276.4,207.2 334,207.2 334,212.4" fill="none" stroke="#111" stroke-width="1.5" stroke-linejoin="miter"/>
<text x="303.3" y="208.73" font-size="12" fill="#5a5a5a" font-family="'Liberation Sans', Arial, sans-serif" font-weight="bold" text-anchor="middle" letter-spacing="0.4">***</text>
<polyline points="295.4,236.8 295.4,222.2 361.7,222.2 361.7,259.5" fill="none" stroke="#111" stroke-width="1.5" stroke-linejoin="miter"/>
<text x="325.3" y="218.8" font-size="10" fill="#333" stroke="#333" stroke-width="0.2" text-anchor="middle" textLength="11.2" lengthAdjust="spacingAndGlyphs">NS</text>
<polyline points="276.4,245.8 276.4,240.7 295.4,240.7 295.4,245.8" fill="none" stroke="#111" stroke-width="1.5" stroke-linejoin="miter"/>
<text x="285.9" y="243.53" font-size="12" fill="#5a5a5a" font-family="'Liberation Sans', Arial, sans-serif" font-weight="bold" text-anchor="middle" letter-spacing="0.4">*</text>
<polyline points="295.4,230.9 314.7,230.9 314.7,234.8" fill="none" stroke="#111" stroke-width="1.5" stroke-linejoin="miter"/>
<text x="307.1" y="233.83" font-size="12" fill="#5a5a5a" font-family="'Liberation Sans', Arial, sans-serif" font-weight="bold" text-anchor="middle" letter-spacing="0.4">*</text>
<line x1="352.5" y1="259.5" x2="372" y2="259.5" stroke="#111" stroke-width="1.4" />
<text x="196.4" y="298.3" font-size="11.2" fill="#111" stroke="#111" stroke-width="0.2" textLength="44.5" lengthAdjust="spacingAndGlyphs">sh-control</text>
<text x="277.3" y="299.7" font-size="11.6" fill="#505050" stroke="#505050" stroke-width="0.2" text-anchor="middle">+</text>
<text x="296.2" y="298.7" font-size="11.6" fill="#505050" stroke="#505050" stroke-width="0.2" text-anchor="middle">-</text>
<text x="315.3" y="298.7" font-size="11.6" fill="#505050" stroke="#505050" stroke-width="0.2" text-anchor="middle">-</text>
<text x="334.5" y="299.7" font-size="11.6" fill="#505050" stroke="#505050" stroke-width="0.2" text-anchor="middle">+</text>
<text x="353.6" y="298.7" font-size="11.6" fill="#505050" stroke="#505050" stroke-width="0.2" text-anchor="middle">-</text>
<text x="372.6" y="298.7" font-size="11.6" fill="#505050" stroke="#505050" stroke-width="0.2" text-anchor="middle">-</text>
<text x="199" y="309.1" font-size="11.2" fill="#111" stroke="#111" stroke-width="0.2" textLength="32.8" lengthAdjust="spacingAndGlyphs">Control</text>
<text x="277.3" y="310.5" font-size="11.6" fill="#505050" stroke="#505050" stroke-width="0.2" text-anchor="middle">+</text>
<text x="296.2" y="310.5" font-size="11.6" fill="#505050" stroke="#505050" stroke-width="0.2" text-anchor="middle">+</text>
<text x="315.3" y="309.5" font-size="11.6" fill="#505050" stroke="#505050" stroke-width="0.2" text-anchor="middle">-</text>
<text x="334.5" y="309.5" font-size="11.6" fill="#505050" stroke="#505050" stroke-width="0.2" text-anchor="middle">-</text>
<text x="353.6" y="310.5" font-size="11.6" fill="#505050" stroke="#505050" stroke-width="0.2" text-anchor="middle">+</text>
<text x="372.6" y="310.5" font-size="11.6" fill="#505050" stroke="#505050" stroke-width="0.2" text-anchor="middle">+</text>
<text x="196.4" y="319.4" font-size="11.2" fill="#111" stroke="#111" stroke-width="0.2" textLength="45.5" lengthAdjust="spacingAndGlyphs">sh-NEAT1</text>
<text x="277.3" y="319.8" font-size="11.6" fill="#505050" stroke="#505050" stroke-width="0.2" text-anchor="middle">-</text>
<text x="296.2" y="320.8" font-size="11.6" fill="#505050" stroke="#505050" stroke-width="0.2" text-anchor="middle">+</text>
<text x="315.3" y="320.8" font-size="11.6" fill="#505050" stroke="#505050" stroke-width="0.2" text-anchor="middle">+</text>
<text x="334.5" y="319.8" font-size="11.6" fill="#505050" stroke="#505050" stroke-width="0.2" text-anchor="middle">-</text>
<text x="353.6" y="320.8" font-size="11.6" fill="#505050" stroke="#505050" stroke-width="0.2" text-anchor="middle">+</text>
<text x="372.6" y="320.8" font-size="11.6" fill="#505050" stroke="#505050" stroke-width="0.2" text-anchor="middle">+</text>
<text x="199" y="330.2" font-size="11.2" fill="#111" stroke="#111" stroke-width="0.2" textLength="27.1" lengthAdjust="spacingAndGlyphs">ATGL</text>
<text x="277.3" y="330.6" font-size="11.6" fill="#505050" stroke="#505050" stroke-width="0.2" text-anchor="middle">-</text>
<text x="296.2" y="330.6" font-size="11.6" fill="#505050" stroke="#505050" stroke-width="0.2" text-anchor="middle">-</text>
<text x="315.3" y="331.6" font-size="11.6" fill="#505050" stroke="#505050" stroke-width="0.2" text-anchor="middle">+</text>
<text x="334.5" y="331.6" font-size="11.6" fill="#505050" stroke="#505050" stroke-width="0.2" text-anchor="middle">+</text>
<text x="353.6" y="330.6" font-size="11.6" fill="#505050" stroke="#505050" stroke-width="0.2" text-anchor="middle">-</text>
<text x="372.6" y="330.6" font-size="11.6" fill="#505050" stroke="#505050" stroke-width="0.2" text-anchor="middle">-</text>
<text x="198.5" y="342.5" font-size="11.2" fill="#111" stroke="#111" stroke-width="0.2" textLength="41" lengthAdjust="spacingAndGlyphs">sh-ATGL</text>
<text x="277.3" y="342.9" font-size="11.6" fill="#505050" stroke="#505050" stroke-width="0.2" text-anchor="middle">-</text>
<text x="296.2" y="342.9" font-size="11.6" fill="#505050" stroke="#505050" stroke-width="0.2" text-anchor="middle">-</text>
<text x="315.3" y="342.9" font-size="11.6" fill="#505050" stroke="#505050" stroke-width="0.2" text-anchor="middle">-</text>
<text x="334.5" y="342.9" font-size="11.6" fill="#505050" stroke="#505050" stroke-width="0.2" text-anchor="middle">-</text>
<text x="353.6" y="343.9" font-size="11.6" fill="#505050" stroke="#505050" stroke-width="0.2" text-anchor="middle">+</text>
<text x="372.6" y="342.9" font-size="11.6" fill="#505050" stroke="#505050" stroke-width="0.2" text-anchor="middle">-</text>
<text x="197.2" y="354.8" font-size="11.2" fill="#111" stroke="#111" stroke-width="0.2" textLength="45.7" lengthAdjust="spacingAndGlyphs">Atglistatin</text>
<text x="277.3" y="355.2" font-size="11.6" fill="#505050" stroke="#505050" stroke-width="0.2" text-anchor="middle">-</text>
<text x="296.2" y="355.2" font-size="11.6" fill="#505050" stroke="#505050" stroke-width="0.2" text-anchor="middle">-</text>
<text x="315.3" y="355.2" font-size="11.6" fill="#505050" stroke="#505050" stroke-width="0.2" text-anchor="middle">-</text>
<text x="334.5" y="355.2" font-size="11.6" fill="#505050" stroke="#505050" stroke-width="0.2" text-anchor="middle">-</text>
<text x="353.6" y="355.2" font-size="11.6" fill="#505050" stroke="#505050" stroke-width="0.2" text-anchor="middle">-</text>
<text x="372.6" y="356.2" font-size="11.6" fill="#505050" stroke="#505050" stroke-width="0.2" text-anchor="middle">+</text>
<text x="516.9" y="193.1" font-size="11.6" fill="#111" stroke="#111" stroke-width="0.2" text-anchor="middle" textLength="45" lengthAdjust="spacingAndGlyphs">SK-Hep-1</text>
<line x1="472.5" y1="209.4" x2="472.5" y2="283.45" stroke="#111" stroke-width="1.7" />
<line x1="469.8" y1="282.6" x2="582" y2="282.6" stroke="#111" stroke-width="1.7" />
<line x1="469.8" y1="282.6" x2="472.5" y2="282.6" stroke="#111" stroke-width="1.3" />
<text x="468.3" y="284.6" font-size="13.6" fill="#111" stroke="#111" stroke-width="0.2" text-anchor="end">0</text>
<line x1="469.8" y1="258.2" x2="472.5" y2="258.2" stroke="#111" stroke-width="1.3" />
<text x="468.3" y="260.2" font-size="13.6" fill="#111" stroke="#111" stroke-width="0.2" text-anchor="end">2</text>
<line x1="469.8" y1="233.8" x2="472.5" y2="233.8" stroke="#111" stroke-width="1.3" />
<text x="468.3" y="235.8" font-size="13.6" fill="#111" stroke="#111" stroke-width="0.2" text-anchor="end">4</text>
<line x1="469.8" y1="209.4" x2="472.5" y2="209.4" stroke="#111" stroke-width="1.3" />
<text x="468.3" y="211.4" font-size="13.6" fill="#111" stroke="#111" stroke-width="0.2" text-anchor="end">6</text>
<text transform="translate(440.7 237.5) rotate(-90)" font-size="11.8" fill="#111" stroke="#111" stroke-width="0.2" text-anchor="middle" textLength="48.5" lengthAdjust="spacingAndGlyphs">Celler FFA</text>
<text transform="translate(453.3 237.5) rotate(-90)" font-size="11.8" fill="#111" stroke="#111" stroke-width="0.2" text-anchor="middle" textLength="59.4" lengthAdjust="spacingAndGlyphs">(fold change)</text>
<rect x="475.98" y="259.54" width="11.45" height="23.06" fill="#1d3f9b" stroke="#111" stroke-width="1.45" />
<line x1="481.7" y1="282.6" x2="481.7" y2="285.6" stroke="#111" stroke-width="1.3" />
<rect x="494.18" y="269.79" width="11.45" height="12.81" fill="#e8201f" stroke="#111" stroke-width="1.45" />
<line x1="499.9" y1="282.6" x2="499.9" y2="285.6" stroke="#111" stroke-width="1.3" />
<line x1="518.1" y1="254.05" x2="518.1" y2="253.08" stroke="#111" stroke-width="1.45" />
<line x1="514.85" y1="253.7" x2="521.35" y2="253.7" stroke="#111" stroke-width="1.45" />
<rect x="512.38" y="254.05" width="11.45" height="28.55" fill="#bcb81e" stroke="#111" stroke-width="1.45" />
<line x1="518.1" y1="282.6" x2="518.1" y2="285.6" stroke="#111" stroke-width="1.3" />
<line x1="536.5" y1="221.48" x2="536.5" y2="219.53" stroke="#111" stroke-width="1.45" />
<line x1="533.25" y1="220.15" x2="539.75" y2="220.15" stroke="#111" stroke-width="1.45" />
<rect x="530.77" y="221.48" width="11.45" height="61.12" fill="#1c8a3c" stroke="#111" stroke-width="1.45" />
<line x1="536.5" y1="282.6" x2="536.5" y2="285.6" stroke="#111" stroke-width="1.3" />
<line x1="554.9" y1="273.45" x2="554.9" y2="272.84" stroke="#111" stroke-width="1.45" />
<line x1="551.65" y1="273.47" x2="558.15" y2="273.47" stroke="#111" stroke-width="1.45" />
<rect x="549.17" y="273.45" width="11.45" height="9.15" fill="#6b2a82" stroke="#111" stroke-width="1.45" />
<line x1="554.9" y1="282.6" x2="554.9" y2="285.6" stroke="#111" stroke-width="1.3" />
<rect x="567.38" y="272.96" width="11.45" height="9.64" fill="#cc1a72" stroke="#111" stroke-width="1.45" />
<line x1="573.1" y1="282.6" x2="573.1" y2="285.6" stroke="#111" stroke-width="1.3" />
<polyline points="483.8,208.7 483.8,204.6 537.1,204.6 537.1,208.7" fill="none" stroke="#111" stroke-width="1.5" stroke-linejoin="miter"/>
<text x="513.5" y="204.63" font-size="12" fill="#5a5a5a" font-family="'Liberation Sans', Arial, sans-serif" font-weight="bold" text-anchor="middle" letter-spacing="0.4">**</text>
<polyline points="499.9,217.7 499.9,214.5 565.4,214.5 565.4,251.8" fill="none" stroke="#111" stroke-width="1.5" stroke-linejoin="miter"/>
<text x="529.1" y="212.6" font-size="10" fill="#333" stroke="#333" stroke-width="0.2" text-anchor="middle" textLength="11.2" lengthAdjust="spacingAndGlyphs">NS</text>
<polyline points="481.6,251.1 481.6,245.3 499.9,245.3 499.9,251.1" fill="none" stroke="#111" stroke-width="1.5" stroke-linejoin="miter"/>
<text x="491.9" y="246.73" font-size="12" fill="#5a5a5a" font-family="'Liberation Sans', Arial, sans-serif" font-weight="bold" text-anchor="middle" letter-spacing="0.4">***</text>
<polyline points="499.9,233.8 499.9,229.9 518.5,229.9 518.5,233.8" fill="none" stroke="#111" stroke-width="1.5" stroke-linejoin="miter"/>
<text x="509.4" y="231.93" font-size="12" fill="#5a5a5a" font-family="'Liberation Sans', Arial, sans-serif" font-weight="bold" text-anchor="middle" letter-spacing="0.4">**</text>
<line x1="556.1" y1="251.8" x2="574.4" y2="251.8" stroke="#111" stroke-width="1.4" />
<text x="403.1" y="294.1" font-size="11.2" fill="#111" stroke="#111" stroke-width="0.2" textLength="44.5" lengthAdjust="spacingAndGlyphs">sh-control</text>
<text x="483.2" y="295.5" font-size="11.6" fill="#505050" stroke="#505050" stroke-width="0.2" text-anchor="middle">+</text>
<text x="501.4" y="294.5" font-size="11.6" fill="#505050" stroke="#505050" stroke-width="0.2" text-anchor="middle">-</text>
<text x="519.6" y="294.5" font-size="11.6" fill="#505050" stroke="#505050" stroke-width="0.2" text-anchor="middle">-</text>
<text x="538" y="295.5" font-size="11.6" fill="#505050" stroke="#505050" stroke-width="0.2" text-anchor="middle">+</text>
<text x="556.4" y="294.5" font-size="11.6" fill="#505050" stroke="#505050" stroke-width="0.2" text-anchor="middle">-</text>
<text x="574.6" y="294.5" font-size="11.6" fill="#505050" stroke="#505050" stroke-width="0.2" text-anchor="middle">-</text>
<text x="405.7" y="305.7" font-size="11.2" fill="#111" stroke="#111" stroke-width="0.2" textLength="32.8" lengthAdjust="spacingAndGlyphs">Control</text>
<text x="483.2" y="307.1" font-size="11.6" fill="#505050" stroke="#505050" stroke-width="0.2" text-anchor="middle">+</text>
<text x="501.4" y="307.1" font-size="11.6" fill="#505050" stroke="#505050" stroke-width="0.2" text-anchor="middle">+</text>
<text x="519.6" y="306.1" font-size="11.6" fill="#505050" stroke="#505050" stroke-width="0.2" text-anchor="middle">-</text>
<text x="538" y="306.1" font-size="11.6" fill="#505050" stroke="#505050" stroke-width="0.2" text-anchor="middle">-</text>
<text x="556.4" y="307.1" font-size="11.6" fill="#505050" stroke="#505050" stroke-width="0.2" text-anchor="middle">+</text>
<text x="574.6" y="307.1" font-size="11.6" fill="#505050" stroke="#505050" stroke-width="0.2" text-anchor="middle">+</text>
<text x="403.1" y="315.2" font-size="11.2" fill="#111" stroke="#111" stroke-width="0.2" textLength="45.5" lengthAdjust="spacingAndGlyphs">sh-NEAT1</text>
<text x="483.2" y="315.6" font-size="11.6" fill="#505050" stroke="#505050" stroke-width="0.2" text-anchor="middle">-</text>
<text x="501.4" y="316.6" font-size="11.6" fill="#505050" stroke="#505050" stroke-width="0.2" text-anchor="middle">+</text>
<text x="519.6" y="316.6" font-size="11.6" fill="#505050" stroke="#505050" stroke-width="0.2" text-anchor="middle">+</text>
<text x="538" y="315.6" font-size="11.6" fill="#505050" stroke="#505050" stroke-width="0.2" text-anchor="middle">-</text>
<text x="556.4" y="316.6" font-size="11.6" fill="#505050" stroke="#505050" stroke-width="0.2" text-anchor="middle">+</text>
<text x="574.6" y="316.6" font-size="11.6" fill="#505050" stroke="#505050" stroke-width="0.2" text-anchor="middle">+</text>
<text x="405.7" y="326.3" font-size="11.2" fill="#111" stroke="#111" stroke-width="0.2" textLength="27.1" lengthAdjust="spacingAndGlyphs">ATGL</text>
<text x="483.2" y="326.7" font-size="11.6" fill="#505050" stroke="#505050" stroke-width="0.2" text-anchor="middle">-</text>
<text x="501.4" y="326.7" font-size="11.6" fill="#505050" stroke="#505050" stroke-width="0.2" text-anchor="middle">-</text>
<text x="519.6" y="327.7" font-size="11.6" fill="#505050" stroke="#505050" stroke-width="0.2" text-anchor="middle">+</text>
<text x="538" y="327.7" font-size="11.6" fill="#505050" stroke="#505050" stroke-width="0.2" text-anchor="middle">+</text>
<text x="556.4" y="326.7" font-size="11.6" fill="#505050" stroke="#505050" stroke-width="0.2" text-anchor="middle">-</text>
<text x="574.6" y="326.7" font-size="11.6" fill="#505050" stroke="#505050" stroke-width="0.2" text-anchor="middle">-</text>
<text x="405.7" y="338.4" font-size="11.2" fill="#111" stroke="#111" stroke-width="0.2" textLength="41" lengthAdjust="spacingAndGlyphs">sh-ATGL</text>
<text x="483.2" y="338.8" font-size="11.6" fill="#505050" stroke="#505050" stroke-width="0.2" text-anchor="middle">-</text>
<text x="501.4" y="338.8" font-size="11.6" fill="#505050" stroke="#505050" stroke-width="0.2" text-anchor="middle">-</text>
<text x="519.6" y="338.8" font-size="11.6" fill="#505050" stroke="#505050" stroke-width="0.2" text-anchor="middle">-</text>
<text x="538" y="338.8" font-size="11.6" fill="#505050" stroke="#505050" stroke-width="0.2" text-anchor="middle">-</text>
<text x="556.4" y="339.8" font-size="11.6" fill="#505050" stroke="#505050" stroke-width="0.2" text-anchor="middle">+</text>
<text x="574.6" y="338.8" font-size="11.6" fill="#505050" stroke="#505050" stroke-width="0.2" text-anchor="middle">-</text>
<text x="403.7" y="350.2" font-size="11.2" fill="#111" stroke="#111" stroke-width="0.2" textLength="45.7" lengthAdjust="spacingAndGlyphs">Atglistatin</text>
<text x="483.2" y="350.6" font-size="11.6" fill="#505050" stroke="#505050" stroke-width="0.2" text-anchor="middle">-</text>
<text x="501.4" y="350.6" font-size="11.6" fill="#505050" stroke="#505050" stroke-width="0.2" text-anchor="middle">-</text>
<text x="519.6" y="350.6" font-size="11.6" fill="#505050" stroke="#505050" stroke-width="0.2" text-anchor="middle">-</text>
<text x="538" y="350.6" font-size="11.6" fill="#505050" stroke="#505050" stroke-width="0.2" text-anchor="middle">-</text>
<text x="556.4" y="350.6" font-size="11.6" fill="#505050" stroke="#505050" stroke-width="0.2" text-anchor="middle">-</text>
<text x="574.6" y="351.6" font-size="11.6" fill="#505050" stroke="#505050" stroke-width="0.2" text-anchor="middle">+</text>
<text x="714.2" y="187.5" font-size="11.6" fill="#111" stroke="#111" stroke-width="0.2" text-anchor="middle" textLength="43.7" lengthAdjust="spacingAndGlyphs">HCCLM3</text>
<line x1="667.3" y1="205.8" x2="667.3" y2="279.05" stroke="#111" stroke-width="1.7" />
<line x1="664.6" y1="278.2" x2="776.5" y2="278.2" stroke="#111" stroke-width="1.7" />
<line x1="664.6" y1="278.2" x2="667.3" y2="278.2" stroke="#111" stroke-width="1.3" />
<text x="663.1" y="281.2" font-size="13.6" fill="#111" stroke="#111" stroke-width="0.2" text-anchor="end">0</text>
<line x1="664.6" y1="260.1" x2="667.3" y2="260.1" stroke="#111" stroke-width="1.3" />
<text x="663.1" y="263.1" font-size="13.6" fill="#111" stroke="#111" stroke-width="0.2" text-anchor="end">2</text>
<line x1="664.6" y1="242" x2="667.3" y2="242" stroke="#111" stroke-width="1.3" />
<text x="663.1" y="245" font-size="13.6" fill="#111" stroke="#111" stroke-width="0.2" text-anchor="end">4</text>
<line x1="664.6" y1="223.9" x2="667.3" y2="223.9" stroke="#111" stroke-width="1.3" />
<text x="663.1" y="226.9" font-size="13.6" fill="#111" stroke="#111" stroke-width="0.2" text-anchor="end">6</text>
<line x1="664.6" y1="205.8" x2="667.3" y2="205.8" stroke="#111" stroke-width="1.3" />
<text x="663.1" y="208.8" font-size="13.6" fill="#111" stroke="#111" stroke-width="0.2" text-anchor="end">8</text>
<text transform="translate(640 238.8) rotate(-90)" font-size="11.8" fill="#111" stroke="#111" stroke-width="0.2" text-anchor="middle" textLength="48.5" lengthAdjust="spacingAndGlyphs">Celler FFA</text>
<text transform="translate(652.6 238.8) rotate(-90)" font-size="11.8" fill="#111" stroke="#111" stroke-width="0.2" text-anchor="middle" textLength="60.4" lengthAdjust="spacingAndGlyphs">(fold change)</text>
<line x1="676.6" y1="259.1" x2="676.6" y2="257.84" stroke="#111" stroke-width="1.45" />
<line x1="673.35" y1="258.46" x2="679.85" y2="258.46" stroke="#111" stroke-width="1.45" />
<rect x="670.98" y="259.1" width="11.25" height="19.1" fill="#1d3f9b" stroke="#111" stroke-width="1.45" />
<line x1="676.6" y1="278.2" x2="676.6" y2="281.2" stroke="#111" stroke-width="1.3" />
<rect x="688.58" y="267.88" width="11.25" height="10.32" fill="#e8201f" stroke="#111" stroke-width="1.45" />
<line x1="694.2" y1="278.2" x2="694.2" y2="281.2" stroke="#111" stroke-width="1.3" />
<line x1="712.6" y1="256.3" x2="712.6" y2="254.49" stroke="#111" stroke-width="1.45" />
<line x1="709.35" y1="255.11" x2="715.85" y2="255.11" stroke="#111" stroke-width="1.45" />
<rect x="706.98" y="256.3" width="11.25" height="21.9" fill="#bcb81e" stroke="#111" stroke-width="1.45" />
<line x1="712.6" y1="278.2" x2="712.6" y2="281.2" stroke="#111" stroke-width="1.3" />
<line x1="730.7" y1="227.97" x2="730.7" y2="226.16" stroke="#111" stroke-width="1.45" />
<line x1="727.45" y1="226.79" x2="733.95" y2="226.79" stroke="#111" stroke-width="1.45" />
<rect x="725.08" y="227.97" width="11.25" height="50.23" fill="#1c8a3c" stroke="#111" stroke-width="1.45" />
<line x1="730.7" y1="278.2" x2="730.7" y2="281.2" stroke="#111" stroke-width="1.3" />
<line x1="748.7" y1="269.24" x2="748.7" y2="268.7" stroke="#111" stroke-width="1.45" />
<line x1="745.45" y1="269.32" x2="751.95" y2="269.32" stroke="#111" stroke-width="1.45" />
<rect x="743.08" y="269.24" width="11.25" height="8.96" fill="#6b2a82" stroke="#111" stroke-width="1.45" />
<line x1="748.7" y1="278.2" x2="748.7" y2="281.2" stroke="#111" stroke-width="1.3" />
<rect x="760.88" y="269.87" width="11.25" height="8.33" fill="#cc1a72" stroke="#111" stroke-width="1.45" />
<line x1="766.5" y1="278.2" x2="766.5" y2="281.2" stroke="#111" stroke-width="1.3" />
<polyline points="677.5,210.7 677.5,208 731,208 731,210.7" fill="none" stroke="#111" stroke-width="1.5" stroke-linejoin="miter"/>
<text x="703.5" y="206.93" font-size="12" fill="#5a5a5a" font-family="'Liberation Sans', Arial, sans-serif" font-weight="bold" text-anchor="middle" letter-spacing="0.4">**</text>
<polyline points="695,221.4 695,217.4 759.2,217.4 759.2,249.7" fill="none" stroke="#111" stroke-width="1.5" stroke-linejoin="miter"/>
<text x="717.9" y="216.2" font-size="10" fill="#333" stroke="#333" stroke-width="0.2" text-anchor="middle" textLength="11.2" lengthAdjust="spacingAndGlyphs">NS</text>
<polyline points="677.8,251.3 677.8,247.7 695,247.7 695,251.3" fill="none" stroke="#111" stroke-width="1.5" stroke-linejoin="miter"/>
<text x="687.4" y="249.03" font-size="12" fill="#5a5a5a" font-family="'Liberation Sans', Arial, sans-serif" font-weight="bold" text-anchor="middle" letter-spacing="0.4">**</text>
<polyline points="695,240.7 695,236.3 712.2,236.3 712.2,240.7" fill="none" stroke="#111" stroke-width="1.5" stroke-linejoin="miter"/>
<text x="702.8" y="238.63" font-size="12" fill="#5a5a5a" font-family="'Liberation Sans', Arial, sans-serif" font-weight="bold" text-anchor="middle" letter-spacing="0.4">**</text>
<line x1="749.7" y1="249.7" x2="768.2" y2="249.7" stroke="#111" stroke-width="1.4" />
<text x="596.5" y="292.9" font-size="11.2" fill="#111" stroke="#111" stroke-width="0.2" textLength="44.5" lengthAdjust="spacingAndGlyphs">sh-control</text>
<text x="677.4" y="294.3" font-size="11.6" fill="#505050" stroke="#505050" stroke-width="0.2" text-anchor="middle">+</text>
<text x="695" y="293.3" font-size="11.6" fill="#505050" stroke="#505050" stroke-width="0.2" text-anchor="middle">-</text>
<text x="713.4" y="293.3" font-size="11.6" fill="#505050" stroke="#505050" stroke-width="0.2" text-anchor="middle">-</text>
<text x="731.5" y="294.3" font-size="11.6" fill="#505050" stroke="#505050" stroke-width="0.2" text-anchor="middle">+</text>
<text x="749.5" y="293.3" font-size="11.6" fill="#505050" stroke="#505050" stroke-width="0.2" text-anchor="middle">-</text>
<text x="767.3" y="293.3" font-size="11.6" fill="#505050" stroke="#505050" stroke-width="0.2" text-anchor="middle">-</text>
<text x="599.1" y="303.4" font-size="11.2" fill="#111" stroke="#111" stroke-width="0.2" textLength="32.8" lengthAdjust="spacingAndGlyphs">Control</text>
<text x="677.4" y="304.8" font-size="11.6" fill="#505050" stroke="#505050" stroke-width="0.2" text-anchor="middle">+</text>
<text x="695" y="304.8" font-size="11.6" fill="#505050" stroke="#505050" stroke-width="0.2" text-anchor="middle">+</text>
<text x="713.4" y="303.8" font-size="11.6" fill="#505050" stroke="#505050" stroke-width="0.2" text-anchor="middle">-</text>
<text x="731.5" y="303.8" font-size="11.6" fill="#505050" stroke="#505050" stroke-width="0.2" text-anchor="middle">-</text>
<text x="749.5" y="304.8" font-size="11.6" fill="#505050" stroke="#505050" stroke-width="0.2" text-anchor="middle">+</text>
<text x="767.3" y="304.8" font-size="11.6" fill="#505050" stroke="#505050" stroke-width="0.2" text-anchor="middle">+</text>
<text x="596.5" y="313.7" font-size="11.2" fill="#111" stroke="#111" stroke-width="0.2" textLength="45.5" lengthAdjust="spacingAndGlyphs">sh-NEAT1</text>
<text x="677.4" y="314.1" font-size="11.6" fill="#505050" stroke="#505050" stroke-width="0.2" text-anchor="middle">-</text>
<text x="695" y="315.1" font-size="11.6" fill="#505050" stroke="#505050" stroke-width="0.2" text-anchor="middle">+</text>
<text x="713.4" y="315.1" font-size="11.6" fill="#505050" stroke="#505050" stroke-width="0.2" text-anchor="middle">+</text>
<text x="731.5" y="314.1" font-size="11.6" fill="#505050" stroke="#505050" stroke-width="0.2" text-anchor="middle">-</text>
<text x="749.5" y="315.1" font-size="11.6" fill="#505050" stroke="#505050" stroke-width="0.2" text-anchor="middle">+</text>
<text x="767.3" y="315.1" font-size="11.6" fill="#505050" stroke="#505050" stroke-width="0.2" text-anchor="middle">+</text>
<text x="599.1" y="324.5" font-size="11.2" fill="#111" stroke="#111" stroke-width="0.2" textLength="27.1" lengthAdjust="spacingAndGlyphs">ATGL</text>
<text x="677.4" y="324.9" font-size="11.6" fill="#505050" stroke="#505050" stroke-width="0.2" text-anchor="middle">-</text>
<text x="695" y="324.9" font-size="11.6" fill="#505050" stroke="#505050" stroke-width="0.2" text-anchor="middle">-</text>
<text x="713.4" y="325.9" font-size="11.6" fill="#505050" stroke="#505050" stroke-width="0.2" text-anchor="middle">+</text>
<text x="731.5" y="325.9" font-size="11.6" fill="#505050" stroke="#505050" stroke-width="0.2" text-anchor="middle">+</text>
<text x="749.5" y="324.9" font-size="11.6" fill="#505050" stroke="#505050" stroke-width="0.2" text-anchor="middle">-</text>
<text x="767.3" y="324.9" font-size="11.6" fill="#505050" stroke="#505050" stroke-width="0.2" text-anchor="middle">-</text>
<text x="598.6" y="336.8" font-size="11.2" fill="#111" stroke="#111" stroke-width="0.2" textLength="41" lengthAdjust="spacingAndGlyphs">sh-ATGL</text>
<text x="677.4" y="337.2" font-size="11.6" fill="#505050" stroke="#505050" stroke-width="0.2" text-anchor="middle">-</text>
<text x="695" y="337.2" font-size="11.6" fill="#505050" stroke="#505050" stroke-width="0.2" text-anchor="middle">-</text>
<text x="713.4" y="337.2" font-size="11.6" fill="#505050" stroke="#505050" stroke-width="0.2" text-anchor="middle">-</text>
<text x="731.5" y="337.2" font-size="11.6" fill="#505050" stroke="#505050" stroke-width="0.2" text-anchor="middle">-</text>
<text x="749.5" y="338.2" font-size="11.6" fill="#505050" stroke="#505050" stroke-width="0.2" text-anchor="middle">+</text>
<text x="767.3" y="337.2" font-size="11.6" fill="#505050" stroke="#505050" stroke-width="0.2" text-anchor="middle">-</text>
<text x="596.5" y="348.9" font-size="11.2" fill="#111" stroke="#111" stroke-width="0.2" textLength="45.7" lengthAdjust="spacingAndGlyphs">Atglistatin</text>
<text x="677.4" y="349.3" font-size="11.6" fill="#505050" stroke="#505050" stroke-width="0.2" text-anchor="middle">-</text>
<text x="695" y="349.3" font-size="11.6" fill="#505050" stroke="#505050" stroke-width="0.2" text-anchor="middle">-</text>
<text x="713.4" y="349.3" font-size="11.6" fill="#505050" stroke="#505050" stroke-width="0.2" text-anchor="middle">-</text>
<text x="731.5" y="349.3" font-size="11.6" fill="#505050" stroke="#505050" stroke-width="0.2" text-anchor="middle">-</text>
<text x="749.5" y="349.3" font-size="11.6" fill="#505050" stroke="#505050" stroke-width="0.2" text-anchor="middle">-</text>
<text x="767.3" y="350.3" font-size="11.6" fill="#505050" stroke="#505050" stroke-width="0.2" text-anchor="middle">+</text>
<line x1="56.4" y1="369.39" x2="56.4" y2="490.7" stroke="#111" stroke-width="2.2" />
<line x1="52.2" y1="489.6" x2="237.5" y2="489.6" stroke="#111" stroke-width="2.2" />
<line x1="52.2" y1="489.6" x2="56.4" y2="489.6" stroke="#111" stroke-width="2" />
<line x1="52.2" y1="449.53" x2="56.4" y2="449.53" stroke="#111" stroke-width="2" />
<line x1="52.2" y1="409.46" x2="56.4" y2="409.46" stroke="#111" stroke-width="2" />
<line x1="52.2" y1="369.39" x2="56.4" y2="369.39" stroke="#111" stroke-width="2" />
<text x="51.3" y="453.43" font-size="14" fill="#111" stroke="#111" stroke-width="0.2" text-anchor="end" textLength="13.3" lengthAdjust="spacingAndGlyphs">10</text>
<text x="51.3" y="413.36" font-size="14" fill="#111" stroke="#111" stroke-width="0.2" text-anchor="end" textLength="13.3" lengthAdjust="spacingAndGlyphs">20</text>
<text x="51.3" y="373.29" font-size="14" fill="#111" stroke="#111" stroke-width="0.2" text-anchor="end" textLength="13.3" lengthAdjust="spacingAndGlyphs">30</text>
<text x="45.5" y="494.2" font-size="14" fill="#111" stroke="#111" stroke-width="0.2" text-anchor="middle">0</text>
<text transform="translate(33 431.1) rotate(-90)" font-size="13" fill="#111" stroke="#111" stroke-width="0.2" text-anchor="middle" textLength="127.8" lengthAdjust="spacingAndGlyphs">Relative mRNA levels of NEAT1</text>
<text x="142.4" y="380.8" font-size="13.1" fill="#111" stroke="#111" stroke-width="0.2" text-anchor="middle" textLength="37.8" lengthAdjust="spacingAndGlyphs">P&lt;0.001</text>
<line x1="101.2" y1="489.6" x2="101.2" y2="493.6" stroke="#111" stroke-width="1.8" />
<line x1="191.6" y1="489.6" x2="191.6" y2="493.6" stroke="#111" stroke-width="1.8" />
<text x="97.2" y="505.9" font-size="12.2" fill="#111" stroke="#111" stroke-width="0.2" text-anchor="middle" textLength="46.3" lengthAdjust="spacingAndGlyphs">CANCER</text>
<text x="181.2" y="505.9" font-size="12.2" fill="#111" stroke="#111" stroke-width="0.2" text-anchor="middle" textLength="81.8" lengthAdjust="spacingAndGlyphs">PARA-CANCER</text>
<circle cx="97.6" cy="387.3" r="1.45" fill="#e8201f"/>
<circle cx="101.6" cy="388.6" r="1.45" fill="#e8201f"/>
<circle cx="105.5" cy="384.7" r="1.45" fill="#e8201f"/>
<circle cx="101.6" cy="402.9" r="1.45" fill="#e8201f"/>
<circle cx="105.5" cy="400.4" r="1.45" fill="#e8201f"/>
<circle cx="97.6" cy="417.1" r="1.45" fill="#e8201f"/>
<circle cx="104.7" cy="416.1" r="1.45" fill="#e8201f"/>
<circle cx="105.1" cy="417.5" r="1.45" fill="#e8201f"/>
<circle cx="97.6" cy="420.6" r="1.45" fill="#e8201f"/>
<circle cx="105.1" cy="423.3" r="1.45" fill="#e8201f"/>
<circle cx="105.1" cy="426.9" r="1.45" fill="#e8201f"/>
<circle cx="97.6" cy="428.4" r="1.45" fill="#e8201f"/>
<circle cx="97.6" cy="444.5" r="1.45" fill="#e8201f"/>
<circle cx="90.4" cy="452.4" r="1.45" fill="#e8201f"/>
<circle cx="94.3" cy="452.7" r="1.45" fill="#e8201f"/>
<circle cx="97.6" cy="453.3" r="1.45" fill="#e8201f"/>
<circle cx="104.7" cy="449.4" r="1.45" fill="#e8201f"/>
<circle cx="105.5" cy="452.4" r="1.45" fill="#e8201f"/>
<circle cx="108.6" cy="452.7" r="1.45" fill="#e8201f"/>
<circle cx="97.6" cy="459.2" r="1.45" fill="#e8201f"/>
<circle cx="104.7" cy="461.2" r="1.45" fill="#e8201f"/>
<circle cx="108.6" cy="458.6" r="1.45" fill="#e8201f"/>
<circle cx="97.6" cy="469" r="1.45" fill="#e8201f"/>
<circle cx="101.6" cy="469.6" r="1.45" fill="#e8201f"/>
<circle cx="105.5" cy="471.6" r="1.45" fill="#e8201f"/>
<circle cx="101.6" cy="472.9" r="1.45" fill="#e8201f"/>
<circle cx="101.6" cy="480.8" r="1.45" fill="#e8201f"/>
<circle cx="101.6" cy="486.7" r="1.45" fill="#e8201f"/>
<circle cx="101.6" cy="437" r="1.45" fill="#e8201f"/>
<circle cx="101.6" cy="445" r="1.45" fill="#e8201f"/>
<circle cx="101.6" cy="430" r="1.45" fill="#e8201f"/>
<circle cx="101.6" cy="462" r="1.45" fill="#e8201f"/>
<rect x="186.35" y="390.55" width="2.5" height="2.5" fill="#1d3f9b"/>
<rect x="190.35" y="393.25" width="2.5" height="2.5" fill="#1d3f9b"/>
<rect x="190.35" y="403.15" width="2.5" height="2.5" fill="#1d3f9b"/>
<rect x="186.35" y="413.55" width="2.5" height="2.5" fill="#1d3f9b"/>
<rect x="190.35" y="414.55" width="2.5" height="2.5" fill="#1d3f9b"/>
<rect x="193.55" y="416.75" width="2.5" height="2.5" fill="#1d3f9b"/>
<rect x="190.35" y="419.45" width="2.5" height="2.5" fill="#1d3f9b"/>
<rect x="186.35" y="448.95" width="2.5" height="2.5" fill="#1d3f9b"/>
<rect x="186.35" y="451.15" width="2.5" height="2.5" fill="#1d3f9b"/>
<rect x="193.55" y="446.05" width="2.5" height="2.5" fill="#1d3f9b"/>
<rect x="193.55" y="453.35" width="2.5" height="2.5" fill="#1d3f9b"/>
<rect x="179.05" y="457.45" width="2.5" height="2.5" fill="#1d3f9b"/>
<rect x="183.05" y="460.15" width="2.5" height="2.5" fill="#1d3f9b"/>
<rect x="186.35" y="460.15" width="2.5" height="2.5" fill="#1d3f9b"/>
<rect x="193.55" y="459.25" width="2.5" height="2.5" fill="#1d3f9b"/>
<rect x="197.15" y="458.35" width="2.5" height="2.5" fill="#1d3f9b"/>
<rect x="186.35" y="465.65" width="2.5" height="2.5" fill="#1d3f9b"/>
<rect x="193.55" y="465.65" width="2.5" height="2.5" fill="#1d3f9b"/>
<rect x="183.05" y="469.25" width="2.5" height="2.5" fill="#1d3f9b"/>
<rect x="186.35" y="471.95" width="2.5" height="2.5" fill="#1d3f9b"/>
<rect x="186.35" y="473.75" width="2.5" height="2.5" fill="#1d3f9b"/>
<rect x="193.55" y="468.35" width="2.5" height="2.5" fill="#1d3f9b"/>
<rect x="197.15" y="468.35" width="2.5" height="2.5" fill="#1d3f9b"/>
<rect x="197.15" y="472.85" width="2.5" height="2.5" fill="#1d3f9b"/>
<rect x="183.05" y="477.05" width="2.5" height="2.5" fill="#1d3f9b"/>
<rect x="189.95" y="477.35" width="2.5" height="2.5" fill="#1d3f9b"/>
<rect x="193.55" y="476.45" width="2.5" height="2.5" fill="#1d3f9b"/>
<rect x="186.35" y="482.85" width="2.5" height="2.5" fill="#1d3f9b"/>
<rect x="189.95" y="483.75" width="2.5" height="2.5" fill="#1d3f9b"/>
<rect x="193.55" y="482.85" width="2.5" height="2.5" fill="#1d3f9b"/>
<rect x="99.9" y="410.8" width="2.6" height="53.7" fill="#e8201f"/>
<rect x="85.1" y="409.2" width="32.7" height="3.1" fill="#e8201f"/>
<rect x="85.1" y="462.9" width="32.7" height="3.1" fill="#e8201f"/>
<line x1="70.2" y1="437.6" x2="132.5" y2="437.6" stroke="#111" stroke-width="2.2" />
<rect x="190.3" y="431.2" width="2.6" height="51.4" fill="#1d3f9b"/>
<rect x="174.9" y="429.6" width="33" height="3.1" fill="#1d3f9b"/>
<rect x="174.9" y="481.0" width="33" height="3.1" fill="#1d3f9b"/>
<line x1="160.4" y1="456.9" x2="222.3" y2="456.9" stroke="#111" stroke-width="2.2" />
<defs><filter id="tex1" x="0" y="0" width="100%" height="100%" color-interpolation-filters="sRGB"><feTurbulence type="fractalNoise" baseFrequency="0.6" numOctaves="2" seed="3" result="n"/><feColorMatrix in="n" type="matrix" values="0 0 0 0 0.45  0 0 0 0 0.2  0 0 0 0 0.38  3.2 0 0 0 -1.72" result="d"/><feColorMatrix in="n" type="matrix" values="0 0 0 0 0.35  0 0 0 0 0.36  0 0 0 0 0.72  0 0 4 0 -2.75" result="bl"/><feTurbulence type="fractalNoise" baseFrequency="0.55" numOctaves="2" seed="21" result="n2"/><feColorMatrix in="n2" type="matrix" values="0 0 0 0 0.97  0 0 0 0 0.9  0 0 0 0 0.92  0 3.5 0 0 -2.0" result="w"/><feMerge><feMergeNode in="SourceGraphic"/><feMergeNode in="w"/><feMergeNode in="d"/><feMergeNode in="bl"/></feMerge></filter><filter id="tex2" x="0" y="0" width="100%" height="100%" color-interpolation-filters="sRGB"><feTurbulence type="fractalNoise" baseFrequency="0.6" numOctaves="2" seed="7" result="n"/><feColorMatrix in="n" type="matrix" values="0 0 0 0 0.5  0 0 0 0 0.24  0 0 0 0 0.4  3.2 0 0 0 -1.6" result="d"/><feTurbulence type="fractalNoise" baseFrequency="0.55" numOctaves="2" seed="11" result="n2"/><feColorMatrix in="n2" type="matrix" values="0 0 0 0 0.96  0 0 0 0 0.9  0 0 0 0 0.84  0 3.5 0 0 -2.0" result="w"/><feMerge><feMergeNode in="SourceGraphic"/><feMergeNode in="w"/><feMergeNode in="d"/></feMerge></filter></defs>
<text x="341.2" y="387.8" font-size="11.6" fill="#111" stroke="#111" stroke-width="0.2" text-anchor="middle" textLength="53.1" lengthAdjust="spacingAndGlyphs">NEAT1 low</text>
<line x1="273" y1="391.9" x2="408.3" y2="391.9" stroke="#111" stroke-width="1.6" />
<text x="307.2" y="411.4" font-size="18.5" fill="#111" stroke="#111" stroke-width="0.2" text-anchor="middle" textLength="47.6" lengthAdjust="spacingAndGlyphs">Case 6</text>
<text x="381.6" y="411.4" font-size="18.5" fill="#111" stroke="#111" stroke-width="0.2" text-anchor="middle" textLength="55.6" lengthAdjust="spacingAndGlyphs">Case 23</text>
<rect x="270.3" y="418.3" width="71" height="53.3" fill="#d49cac" filter="url(#tex1)"/>
<rect x="346.5" y="418.3" width="71" height="53.3" fill="#d197a8" filter="url(#tex1)"/>
<text x="266" y="446.9" font-size="12.8" fill="#111" stroke="#111" stroke-width="0.2" text-anchor="end" textLength="30" lengthAdjust="spacingAndGlyphs">ATGL</text>
<text x="542.2" y="387.8" font-size="11.6" fill="#111" stroke="#111" stroke-width="0.2" text-anchor="middle" textLength="55.6" lengthAdjust="spacingAndGlyphs">NEAT1 high</text>
<line x1="467.9" y1="392" x2="610.9" y2="392" stroke="#111" stroke-width="1.6" />
<text x="506.5" y="412.8" font-size="18.5" fill="#111" stroke="#111" stroke-width="0.2" text-anchor="middle" textLength="47.9" lengthAdjust="spacingAndGlyphs">Case 7</text>
<text x="570.5" y="410.3" font-size="18.5" fill="#111" stroke="#111" stroke-width="0.2" text-anchor="middle" textLength="47.5" lengthAdjust="spacingAndGlyphs">Case 8</text>
<rect x="467.5" y="418" width="71.1" height="53" fill="#c89689" filter="url(#tex2)"/>
<rect x="540.2" y="418" width="71.4" height="53" fill="#c89689" filter="url(#tex2)"/>
<text x="458.9" y="446.9" font-size="12.8" fill="#111" stroke="#111" stroke-width="0.2" text-anchor="end" textLength="30.2" lengthAdjust="spacingAndGlyphs">ATGL</text>
<line x1="61.2" y1="540.3" x2="61.2" y2="636.7" stroke="#111" stroke-width="1.5" />
<line x1="58.4" y1="636" x2="204.4" y2="636" stroke="#111" stroke-width="1.5" />
<line x1="58.4" y1="636" x2="61.2" y2="636" stroke="#111" stroke-width="1.3" />
<text x="56.6" y="638.9" font-size="14.2" fill="#111" stroke="#111" stroke-width="0.2" text-anchor="end">0</text>
<line x1="58.4" y1="604.1" x2="61.2" y2="604.1" stroke="#111" stroke-width="1.3" />
<text x="56.6" y="607" font-size="14.2" fill="#111" stroke="#111" stroke-width="0.2" text-anchor="end">5</text>
<line x1="58.4" y1="572.2" x2="61.2" y2="572.2" stroke="#111" stroke-width="1.3" />
<text x="56.6" y="575.1" font-size="14.2" fill="#111" stroke="#111" stroke-width="0.2" text-anchor="end" textLength="12.3" lengthAdjust="spacingAndGlyphs">10</text>
<line x1="58.4" y1="540.3" x2="61.2" y2="540.3" stroke="#111" stroke-width="1.3" />
<text x="56.6" y="543.2" font-size="14.2" fill="#111" stroke="#111" stroke-width="0.2" text-anchor="end" textLength="12.3" lengthAdjust="spacingAndGlyphs">15</text>
<line x1="61.2" y1="636" x2="61.2" y2="639.2" stroke="#111" stroke-width="1.5" />
<text x="61.2" y="650.7" font-size="14.2" fill="#111" stroke="#111" stroke-width="0.2" text-anchor="middle">0</text>
<line x1="108.7" y1="636" x2="108.7" y2="639.2" stroke="#111" stroke-width="1.5" />
<text x="108.7" y="650.7" font-size="14.2" fill="#111" stroke="#111" stroke-width="0.2" text-anchor="middle">5</text>
<line x1="156.2" y1="636" x2="156.2" y2="639.2" stroke="#111" stroke-width="1.5" />
<text x="158.7" y="650.7" font-size="14.2" fill="#111" stroke="#111" stroke-width="0.2" text-anchor="middle" textLength="12.3" lengthAdjust="spacingAndGlyphs">10</text>
<line x1="203.7" y1="636" x2="203.7" y2="639.2" stroke="#111" stroke-width="1.5" />
<text x="206.2" y="650.7" font-size="14.2" fill="#111" stroke="#111" stroke-width="0.2" text-anchor="middle" textLength="12.3" lengthAdjust="spacingAndGlyphs">15</text>
<text transform="translate(42.7 586.7) rotate(-90)" font-size="11.6" fill="#111" stroke="#111" stroke-width="0.2" text-anchor="middle" textLength="125.4" lengthAdjust="spacingAndGlyphs">Relative mRNA levels of ATGL</text>
<text x="136.3" y="661" font-size="11.6" fill="#111" stroke="#111" stroke-width="0.2" text-anchor="middle" textLength="143.3" lengthAdjust="spacingAndGlyphs">Relative mRNA levels of NEAT1</text>
<text x="129.5" y="539" font-size="10.4" fill="#222" stroke="#222" stroke-width="0.2" text-anchor="middle" textLength="71.1" lengthAdjust="spacingAndGlyphs">R=0.7791  P&lt;0.001</text>
<line x1="70" y1="624.4" x2="174" y2="577.9" stroke="#111" stroke-width="2.3" />
<circle cx="70.9" cy="610.2" r="1.7" fill="#111"/>
<circle cx="79.2" cy="608.2" r="1.7" fill="#111"/>
<circle cx="83.1" cy="617.7" r="1.7" fill="#111"/>
<circle cx="83.4" cy="625.2" r="1.7" fill="#111"/>
<circle cx="83.4" cy="629.7" r="1.7" fill="#111"/>
<circle cx="90.9" cy="628.9" r="1.7" fill="#111"/>
<circle cx="93.1" cy="628.5" r="1.7" fill="#111"/>
<circle cx="94.8" cy="628.5" r="1.7" fill="#111"/>
<circle cx="94.6" cy="596.8" r="1.7" fill="#111"/>
<circle cx="99.8" cy="626.4" r="1.7" fill="#111"/>
<circle cx="101" cy="603.5" r="1.7" fill="#111"/>
<circle cx="101.8" cy="603.1" r="1.7" fill="#111"/>
<circle cx="101.3" cy="614.3" r="1.7" fill="#111"/>
<circle cx="104" cy="601" r="1.7" fill="#111"/>
<circle cx="105.1" cy="609.3" r="1.7" fill="#111"/>
<circle cx="108.8" cy="599.3" r="1.7" fill="#111"/>
<circle cx="110.5" cy="597.6" r="1.7" fill="#111"/>
<circle cx="113.1" cy="596" r="1.7" fill="#111"/>
<circle cx="126.5" cy="596.5" r="1.7" fill="#111"/>
<circle cx="129.4" cy="607.7" r="1.7" fill="#111"/>
<circle cx="132.2" cy="604.3" r="1.7" fill="#111"/>
<circle cx="132.7" cy="599.3" r="1.7" fill="#111"/>
<circle cx="136" cy="606.5" r="1.7" fill="#111"/>
<circle cx="136.5" cy="594.8" r="1.7" fill="#111"/>
<circle cx="139" cy="595.5" r="1.7" fill="#111"/>
<circle cx="139.4" cy="599.3" r="1.7" fill="#111"/>
<circle cx="140.2" cy="593.5" r="1.7" fill="#111"/>
<circle cx="144.4" cy="599.3" r="1.7" fill="#111"/>
<circle cx="147.2" cy="578.4" r="1.7" fill="#111"/>
<circle cx="147.7" cy="580.4" r="1.7" fill="#111"/>
<circle cx="154.9" cy="601" r="1.7" fill="#111"/>
<circle cx="157.8" cy="557.5" r="1.7" fill="#111"/>
<circle cx="170.3" cy="591" r="1.7" fill="#111"/>
<circle cx="172" cy="571.4" r="1.7" fill="#111"/>
<circle cx="174.5" cy="576.7" r="1.7" fill="#111"/>
<line x1="324.9" y1="535.65" x2="324.9" y2="636.6" stroke="#111" stroke-width="1.5" />
<line x1="322.1" y1="635.9" x2="476.35" y2="635.9" stroke="#111" stroke-width="1.5" />
<line x1="322.1" y1="635.9" x2="324.9" y2="635.9" stroke="#111" stroke-width="1.3" />
<text x="320.3" y="639.1" font-size="14.2" fill="#111" stroke="#111" stroke-width="0.2" text-anchor="end">0</text>
<line x1="322.1" y1="615.85" x2="324.9" y2="615.85" stroke="#111" stroke-width="1.3" />
<text x="320.3" y="619.05" font-size="14.2" fill="#111" stroke="#111" stroke-width="0.2" text-anchor="end">1</text>
<line x1="322.1" y1="595.8" x2="324.9" y2="595.8" stroke="#111" stroke-width="1.3" />
<text x="320.3" y="599" font-size="14.2" fill="#111" stroke="#111" stroke-width="0.2" text-anchor="end">2</text>
<line x1="322.1" y1="575.75" x2="324.9" y2="575.75" stroke="#111" stroke-width="1.3" />
<text x="320.3" y="578.95" font-size="14.2" fill="#111" stroke="#111" stroke-width="0.2" text-anchor="end">3</text>
<line x1="322.1" y1="555.7" x2="324.9" y2="555.7" stroke="#111" stroke-width="1.3" />
<text x="320.3" y="558.9" font-size="14.2" fill="#111" stroke="#111" stroke-width="0.2" text-anchor="end">4</text>
<line x1="322.1" y1="535.65" x2="324.9" y2="535.65" stroke="#111" stroke-width="1.3" />
<text x="320.3" y="538.85" font-size="14.2" fill="#111" stroke="#111" stroke-width="0.2" text-anchor="end">5</text>
<line x1="324.9" y1="635.9" x2="324.9" y2="639.1" stroke="#111" stroke-width="1.5" />
<text x="324.9" y="651" font-size="14.2" fill="#111" stroke="#111" stroke-width="0.2" text-anchor="middle">0</text>
<line x1="375.15" y1="635.9" x2="375.15" y2="639.1" stroke="#111" stroke-width="1.5" />
<text x="375.15" y="651" font-size="14.2" fill="#111" stroke="#111" stroke-width="0.2" text-anchor="middle">5</text>
<line x1="425.4" y1="635.9" x2="425.4" y2="639.1" stroke="#111" stroke-width="1.5" />
<text x="427.9" y="651" font-size="14.2" fill="#111" stroke="#111" stroke-width="0.2" text-anchor="middle" textLength="12.3" lengthAdjust="spacingAndGlyphs">10</text>
<line x1="475.65" y1="635.9" x2="475.65" y2="639.1" stroke="#111" stroke-width="1.5" />
<text x="478.15" y="651" font-size="14.2" fill="#111" stroke="#111" stroke-width="0.2" text-anchor="middle" textLength="12.3" lengthAdjust="spacingAndGlyphs">15</text>
<text transform="translate(305.1 579.7) rotate(-90)" font-size="12" fill="#111" stroke="#111" stroke-width="0.2" text-anchor="middle" textLength="102.6" lengthAdjust="spacingAndGlyphs">Relative Levels of DAG</text>
<text x="392.6" y="661" font-size="11.6" fill="#111" stroke="#111" stroke-width="0.2" text-anchor="middle" textLength="146.4" lengthAdjust="spacingAndGlyphs">Relative mRNA levels of NEAT1</text>
<text x="398.4" y="534" font-size="10.4" fill="#2c2c50" stroke="#2c2c50" stroke-width="0.2" text-anchor="middle" textLength="76.5" lengthAdjust="spacingAndGlyphs">R=0.8268 P&lt;0.001</text>
<line x1="334.2" y1="609.7" x2="444.5" y2="556.7" stroke="#111" stroke-width="2.3" />
<circle cx="334.7" cy="597.3" r="1.7" fill="#111"/>
<circle cx="343.4" cy="593.8" r="1.7" fill="#111"/>
<circle cx="345.1" cy="597.2" r="1.7" fill="#111"/>
<circle cx="347.6" cy="603.5" r="1.7" fill="#111"/>
<circle cx="347.6" cy="610.2" r="1.7" fill="#111"/>
<circle cx="348.4" cy="610.5" r="1.7" fill="#111"/>
<circle cx="356.4" cy="589.3" r="1.7" fill="#111"/>
<circle cx="355.9" cy="593.8" r="1.7" fill="#111"/>
<circle cx="359.6" cy="616.4" r="1.7" fill="#111"/>
<circle cx="365.1" cy="582.6" r="1.7" fill="#111"/>
<circle cx="366.8" cy="582.6" r="1.7" fill="#111"/>
<circle cx="367.1" cy="585.5" r="1.7" fill="#111"/>
<circle cx="366.4" cy="594.6" r="1.7" fill="#111"/>
<circle cx="365.9" cy="600.5" r="1.7" fill="#111"/>
<circle cx="366.8" cy="603.8" r="1.7" fill="#111"/>
<circle cx="369.6" cy="600.5" r="1.7" fill="#111"/>
<circle cx="370.1" cy="616.4" r="1.7" fill="#111"/>
<circle cx="376" cy="597.3" r="1.7" fill="#111"/>
<circle cx="375.1" cy="590.1" r="1.7" fill="#111"/>
<circle cx="378.5" cy="588.5" r="1.7" fill="#111"/>
<circle cx="393.2" cy="588.1" r="1.7" fill="#111"/>
<circle cx="393.9" cy="589.3" r="1.7" fill="#111"/>
<circle cx="396.4" cy="581.8" r="1.7" fill="#111"/>
<circle cx="399.9" cy="571.8" r="1.7" fill="#111"/>
<circle cx="403.2" cy="571.4" r="1.7" fill="#111"/>
<circle cx="403.5" cy="574.3" r="1.7" fill="#111"/>
<circle cx="406" cy="576.4" r="1.7" fill="#111"/>
<circle cx="408.2" cy="578.8" r="1.7" fill="#111"/>
<circle cx="408.2" cy="581.4" r="1.7" fill="#111"/>
<circle cx="412.4" cy="576.4" r="1.7" fill="#111"/>
<circle cx="415.2" cy="545" r="1.7" fill="#111"/>
<circle cx="415.6" cy="556.2" r="1.7" fill="#111"/>
<circle cx="423.3" cy="553.4" r="1.7" fill="#111"/>
<circle cx="426.1" cy="571.8" r="1.7" fill="#111"/>
<circle cx="439.5" cy="572.1" r="1.7" fill="#111"/>
<circle cx="441.1" cy="554.2" r="1.7" fill="#111"/>
<circle cx="443.6" cy="560.9" r="1.7" fill="#111"/>
<line x1="547.6" y1="528.9" x2="547.6" y2="635.6" stroke="#111" stroke-width="1.5" />
<line x1="544.8" y1="634.9" x2="707.3" y2="634.9" stroke="#111" stroke-width="1.5" />
<line x1="544.8" y1="634.9" x2="547.6" y2="634.9" stroke="#111" stroke-width="1.3" />
<text x="543" y="638.2" font-size="14.2" fill="#111" stroke="#111" stroke-width="0.2" text-anchor="end">0</text>
<line x1="544.8" y1="608.4" x2="547.6" y2="608.4" stroke="#111" stroke-width="1.3" />
<text x="543" y="611.7" font-size="14.2" fill="#111" stroke="#111" stroke-width="0.2" text-anchor="end">2</text>
<line x1="544.8" y1="581.9" x2="547.6" y2="581.9" stroke="#111" stroke-width="1.3" />
<text x="543" y="585.2" font-size="14.2" fill="#111" stroke="#111" stroke-width="0.2" text-anchor="end">4</text>
<line x1="544.8" y1="555.4" x2="547.6" y2="555.4" stroke="#111" stroke-width="1.3" />
<text x="543" y="558.7" font-size="14.2" fill="#111" stroke="#111" stroke-width="0.2" text-anchor="end">6</text>
<line x1="544.8" y1="528.9" x2="547.6" y2="528.9" stroke="#111" stroke-width="1.3" />
<text x="543" y="532.2" font-size="14.2" fill="#111" stroke="#111" stroke-width="0.2" text-anchor="end">8</text>
<line x1="547.6" y1="634.9" x2="547.6" y2="638.1" stroke="#111" stroke-width="1.5" />
<text x="547.6" y="650.1" font-size="14.2" fill="#111" stroke="#111" stroke-width="0.2" text-anchor="middle">0</text>
<line x1="600.6" y1="634.9" x2="600.6" y2="638.1" stroke="#111" stroke-width="1.5" />
<text x="600.6" y="650.1" font-size="14.2" fill="#111" stroke="#111" stroke-width="0.2" text-anchor="middle">5</text>
<line x1="653.6" y1="634.9" x2="653.6" y2="638.1" stroke="#111" stroke-width="1.5" />
<text x="656.1" y="650.1" font-size="14.2" fill="#111" stroke="#111" stroke-width="0.2" text-anchor="middle" textLength="12.3" lengthAdjust="spacingAndGlyphs">10</text>
<line x1="706.6" y1="634.9" x2="706.6" y2="638.1" stroke="#111" stroke-width="1.5" />
<text x="709.1" y="650.1" font-size="14.2" fill="#111" stroke="#111" stroke-width="0.2" text-anchor="middle" textLength="12.3" lengthAdjust="spacingAndGlyphs">15</text>
<text transform="translate(529.7 584.4) rotate(-90)" font-size="12" fill="#111" stroke="#111" stroke-width="0.2" text-anchor="middle" textLength="105.2" lengthAdjust="spacingAndGlyphs">Relative Levels of FFA</text>
<text x="622" y="661" font-size="11.6" fill="#111" stroke="#111" stroke-width="0.2" text-anchor="middle" textLength="137.7" lengthAdjust="spacingAndGlyphs">Relative mRNA levels of NEAT1</text>
<text x="631.7" y="540.5" font-size="10.4" fill="#222" stroke="#222" stroke-width="0.2" text-anchor="middle" textLength="78.9" lengthAdjust="spacingAndGlyphs">R=0.7070  P&lt;0.001</text>
<line x1="558" y1="611" x2="673.7" y2="558.7" stroke="#111" stroke-width="2.3" />
<circle cx="558.7" cy="581.4" r="1.7" fill="#111"/>
<circle cx="568.1" cy="584.8" r="1.7" fill="#111"/>
<circle cx="569.7" cy="608.8" r="1.7" fill="#111"/>
<circle cx="572.6" cy="610.2" r="1.7" fill="#111"/>
<circle cx="573.1" cy="602.2" r="1.7" fill="#111"/>
<circle cx="572.1" cy="621.9" r="1.7" fill="#111"/>
<circle cx="581.4" cy="598.8" r="1.7" fill="#111"/>
<circle cx="584.8" cy="599.8" r="1.7" fill="#111"/>
<circle cx="581.4" cy="614" r="1.7" fill="#111"/>
<circle cx="585.1" cy="615.2" r="1.7" fill="#111"/>
<circle cx="591" cy="591" r="1.7" fill="#111"/>
<circle cx="592.1" cy="593.1" r="1.7" fill="#111"/>
<circle cx="592.6" cy="595.1" r="1.7" fill="#111"/>
<circle cx="591.4" cy="597.6" r="1.7" fill="#111"/>
<circle cx="595.5" cy="607.2" r="1.7" fill="#111"/>
<circle cx="596.3" cy="609.8" r="1.7" fill="#111"/>
<circle cx="601" cy="602.7" r="1.7" fill="#111"/>
<circle cx="602.3" cy="556.7" r="1.7" fill="#111"/>
<circle cx="605.5" cy="616.5" r="1.7" fill="#111"/>
<circle cx="620.5" cy="569.6" r="1.7" fill="#111"/>
<circle cx="621" cy="606.3" r="1.7" fill="#111"/>
<circle cx="623.5" cy="588.5" r="1.7" fill="#111"/>
<circle cx="627.2" cy="588.5" r="1.7" fill="#111"/>
<circle cx="626.9" cy="575.6" r="1.7" fill="#111"/>
<circle cx="631" cy="569.2" r="1.7" fill="#111"/>
<circle cx="631.4" cy="578.8" r="1.7" fill="#111"/>
<circle cx="634.9" cy="564.2" r="1.7" fill="#111"/>
<circle cx="634.4" cy="559.2" r="1.7" fill="#111"/>
<circle cx="636.1" cy="559.2" r="1.7" fill="#111"/>
<circle cx="636.6" cy="578.1" r="1.7" fill="#111"/>
<circle cx="640.6" cy="551.4" r="1.7" fill="#111"/>
<circle cx="643.6" cy="568.7" r="1.7" fill="#111"/>
<circle cx="643.6" cy="575.4" r="1.7" fill="#111"/>
<circle cx="651.9" cy="553.4" r="1.7" fill="#111"/>
<circle cx="654.9" cy="559.2" r="1.7" fill="#111"/>
<circle cx="669" cy="572.1" r="1.7" fill="#111"/>
<circle cx="671.2" cy="583.8" r="1.7" fill="#111"/>
<circle cx="673.3" cy="560" r="1.7" fill="#111"/>
</svg></body></html>
